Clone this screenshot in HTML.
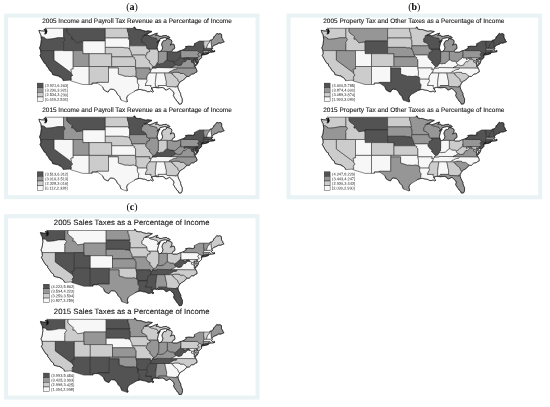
<!DOCTYPE html>
<html lang="en"><head><meta charset="utf-8"><title>Tax revenue maps</title>
<style>html,body{margin:0;padding:0;background:#fff}svg{display:block}text{text-rendering:geometricPrecision}</style></head>
<body><svg width="550" height="407" viewBox="0 0 550 407" font-family="'Liberation Sans', Arial, sans-serif"><defs><filter id="soft" x="-5%" y="-5%" width="110%" height="110%"><feGaussianBlur stdDeviation="0.35"/></filter></defs><rect x="4.1" y="13.6" width="255.4" height="185.6" fill="#e9f2f4"/>
<rect x="8.1" y="17.6" width="247.4" height="177.6" fill="#ffffff"/>
<rect x="286.6" y="13.6" width="255.6" height="185.7" fill="#e9f2f4"/>
<rect x="290.6" y="17.6" width="247.6" height="177.7" fill="#ffffff"/>
<rect x="4.1" y="214.2" width="255.4" height="185.4" fill="#e9f2f4"/>
<rect x="8.1" y="218.2" width="247.4" height="177.4" fill="#ffffff"/>
<text x="132.0" y="9.8" font-family="'Liberation Serif', serif" font-size="10" text-anchor="middle" fill="#000">(<tspan font-weight="bold">a</tspan>)</text>
<text x="414.3" y="9.8" font-family="'Liberation Serif', serif" font-size="10" text-anchor="middle" fill="#000">(<tspan font-weight="bold">b</tspan>)</text>
<text x="132.0" y="210.3" font-family="'Liberation Serif', serif" font-size="10" text-anchor="middle" fill="#000">(<tspan font-weight="bold">c</tspan>)</text>
<g stroke="#222222" stroke-width="0.52" stroke-linejoin="round" filter="url(#soft)"><path d="M41.1 37.0L40.9 35.0L39.8 33.1L38.9 30.3L41.6 30.9L44.1 31.0L45.3 31.1L45.6 32.4L44.5 34.2L46.2 33.7L46.7 31.8L46.2 30.2L46.1 29.1L45.2 28.3L63.6 28.3L63.6 36.5L64.0 37.8L57.3 37.8L56.3 38.1L52.5 38.8L50.2 39.1L46.9 39.3L45.1 39.0L45.1 38.2L43.8 37.4L42.8 37.0ZM45.3 30.2L45.9 30.4L46.4 31.6L45.9 31.6ZM44.0 29.4L44.9 29.3L45.1 30.0L44.1 30.0ZM45.7 32.3L46.2 32.4L46.2 33.5L45.7 33.4Z" fill="#f7f7f7"/><path d="M41.1 37.0L42.8 37.0L43.8 37.4L45.1 38.2L45.1 39.0L46.9 39.3L50.2 39.1L52.5 38.8L56.3 38.1L57.3 37.8L64.0 37.8L65.3 39.4L64.2 41.3L63.1 42.9L64.0 43.7L63.6 44.7L63.6 50.6L40.6 50.6L39.5 47.9L40.3 46.1L40.8 44.2L41.0 42.2L41.4 39.4Z" fill="#525252"/><path d="M40.6 50.6L54.1 50.6L54.1 60.1L71.3 72.8L72.0 74.6L72.9 75.2L71.6 76.2L71.0 77.9L71.7 79.1L71.0 80.1L63.3 80.7L62.8 79.2L60.8 77.3L59.2 76.8L58.9 75.9L56.7 75.7L52.6 74.6L52.0 72.3L49.9 70.8L48.0 67.7L46.4 65.8L46.1 63.9L44.5 63.3L41.9 59.1L40.0 55.5L40.9 53.7Z" fill="#525252"/><path d="M54.1 50.6L73.2 50.6L73.2 69.0L71.1 69.3L70.9 69.6L71.5 72.3L71.3 72.8L54.1 60.1Z" fill="#f7f7f7"/><path d="M63.6 28.3L66.8 28.3L66.8 31.5L67.9 33.2L70.3 34.9L71.4 35.8L72.2 36.6L71.7 39.1L73.4 38.8L75.1 41.2L76.6 42.8L78.8 42.4L81.5 41.9L82.8 42.7L82.8 50.6L63.6 50.6L63.6 44.7L64.0 43.7L63.1 42.9L64.2 41.3L65.3 39.4L64.0 37.8L63.6 36.5Z" fill="#525252"/><path d="M66.8 28.3L105.3 28.3L105.3 41.0L82.8 41.0L82.8 42.7L81.5 41.9L78.8 42.4L76.6 42.8L75.1 41.2L73.4 38.8L71.7 39.1L72.2 36.6L71.4 35.8L70.3 34.9L67.9 33.2L66.8 31.5Z" fill="#525252"/><path d="M82.8 41.0L105.3 41.0L105.3 53.7L82.8 53.7Z" fill="#f7f7f7"/><path d="M73.2 50.6L82.8 50.6L82.8 53.7L89.2 53.7L89.2 66.5L73.2 66.5Z" fill="#969696"/><path d="M89.2 53.7L111.7 53.7L111.7 66.5L89.2 66.5Z" fill="#cccccc"/><path d="M73.2 66.5L89.2 66.5L89.2 84.5L82.7 84.5L70.7 80.8L71.0 80.1L71.7 79.1L71.0 77.9L71.6 76.2L72.9 75.2L72.0 74.6L71.3 72.8L71.5 72.3L70.9 69.6L71.1 69.3L73.2 69.0Z" fill="#f7f7f7"/><path d="M89.2 66.5L108.7 66.5L108.7 68.0L108.5 68.0L108.5 82.4L97.0 82.4L97.0 83.1L92.0 83.1L92.0 84.5L89.2 84.5Z" fill="#cccccc"/><path d="M105.3 28.3L127.2 28.3L127.6 31.5L128.4 33.1L128.6 35.0L129.3 37.8L129.3 38.0L105.3 38.0Z" fill="#cccccc"/><path d="M105.3 38.0L129.3 38.0L128.4 39.1L129.7 40.1L129.7 45.8L129.2 47.1L129.7 49.0L128.9 48.7L127.3 47.9L125.0 48.0L123.1 47.4L105.3 47.4Z" fill="#f7f7f7"/><path d="M105.3 47.4L123.1 47.4L125.0 48.0L127.3 47.9L128.9 48.7L129.7 49.0L130.0 49.9L130.8 51.5L131.4 52.8L131.6 54.7L131.9 55.1L133.3 56.9L111.7 56.9L111.7 53.7L105.3 53.7Z" fill="#cccccc"/><path d="M111.7 56.9L133.3 56.9L134.7 57.7L134.0 58.4L135.6 59.7L135.6 66.5L111.7 66.5Z" fill="#cccccc"/><path d="M108.7 66.5L135.6 66.5L135.6 68.0L136.2 71.5L136.0 77.1L133.7 76.2L131.1 76.5L129.2 76.5L127.3 76.3L125.0 76.4L122.8 75.5L120.9 75.0L118.3 74.2L118.3 68.0L108.7 68.0Z" fill="#cccccc"/><path d="M108.5 68.0L118.3 68.0L118.3 74.2L120.9 75.0L122.8 75.5L125.0 76.4L127.3 76.3L129.2 76.5L131.1 76.5L133.7 76.2L136.0 77.1L137.4 77.4L137.4 82.4L138.2 84.0L139.0 85.0L138.5 86.8L138.5 88.4L138.1 89.7L135.3 90.6L134.0 91.7L131.4 93.2L128.6 94.8L127.3 96.4L126.6 98.3L127.0 99.8L127.4 101.6L126.3 101.9L124.1 101.2L121.2 100.2L120.0 97.5L119.9 96.7L117.3 94.1L116.2 91.6L113.8 89.5L110.9 89.1L109.6 89.7L108.2 92.0L107.7 91.9L105.4 90.9L103.8 89.8L102.6 86.8L99.0 84.3L97.4 83.2L97.0 83.1L97.0 82.4L108.5 82.4Z" fill="#f7f7f7"/><path d="M127.2 28.3L133.9 28.3L133.9 27.1L135.0 27.3L135.5 29.1L138.2 29.6L140.1 29.5L142.7 30.5L145.9 31.3L147.8 30.8L152.0 31.5L147.8 33.7L143.6 35.5L143.0 35.7L143.0 37.6L141.4 38.8L141.6 41.0L141.4 41.8L144.0 42.9L146.2 44.7L146.5 45.8L129.7 45.8L129.7 40.1L128.4 39.1L129.3 38.0L129.3 37.8L128.6 35.0L128.4 33.1L127.6 31.5L127.2 28.3Z" fill="#525252"/><path d="M129.7 45.8L146.5 45.8L146.9 47.1L146.7 48.2L148.3 49.0L149.9 50.2L149.7 51.2L149.3 52.0L147.0 52.5L146.9 54.2L145.9 55.6L144.9 55.0L131.9 55.1L131.6 54.7L131.4 52.8L130.8 51.5L130.0 49.9L129.7 49.0L129.2 47.1Z" fill="#cccccc"/><path d="M131.9 55.1L144.9 55.0L145.9 55.6L145.8 57.2L147.0 58.7L148.1 60.1L148.9 60.4L149.7 60.7L149.7 61.4L149.3 62.6L150.7 63.6L152.0 65.5L153.2 66.5L153.0 67.7L152.0 68.0L152.0 68.8L151.3 69.6L149.2 69.6L149.9 68.0L135.6 68.0L135.6 66.5L135.6 59.7L134.0 58.4L134.7 57.7L133.3 56.9Z" fill="#cccccc"/><path d="M135.6 68.0L149.9 68.0L149.2 69.6L151.3 69.6L150.2 72.4L149.4 72.8L148.5 74.1L147.3 75.7L146.9 77.3L146.7 79.2L137.4 79.2L137.4 77.4L136.0 77.1L136.2 71.5Z" fill="#969696"/><path d="M137.4 79.2L146.7 79.2L147.2 80.5L146.9 81.7L145.9 83.3L145.4 85.4L145.2 85.5L151.2 85.5L150.9 86.7L151.9 88.1L151.0 88.6L152.3 88.9L152.0 90.0L153.6 91.3L152.5 92.1L150.7 90.9L149.7 91.6L147.5 91.7L146.2 90.9L144.6 90.3L143.0 90.2L140.1 89.4L138.1 89.7L138.5 88.4L138.5 86.8L139.0 85.0L138.2 84.0L137.4 82.4L137.4 79.2Z" fill="#f7f7f7"/><path d="M149.4 72.8L156.2 72.8L156.5 73.1L155.3 82.7L155.5 87.5L153.9 87.4L151.9 88.1L150.9 86.7L151.2 85.5L145.2 85.5L145.4 85.4L145.9 83.3L146.9 81.7L147.2 80.5L146.7 79.2L146.9 77.3L147.3 75.7L148.5 74.1L149.4 72.8Z" fill="#f7f7f7"/><path d="M156.2 72.8L164.5 72.8L165.9 79.6L166.4 81.4L166.3 83.8L166.4 85.5L158.1 85.5L158.7 86.7L158.3 87.8L157.4 87.9L157.1 86.8L156.6 86.8L156.5 87.8L155.5 87.5L155.3 82.7L156.5 73.1Z" fill="#f7f7f7"/><path d="M164.5 72.8L172.5 72.8L171.7 73.8L173.2 74.6L174.1 76.2L176.2 77.7L177.7 79.2L178.0 80.5L179.0 82.0L179.8 82.3L178.8 83.8L178.0 85.5L177.8 86.4L176.1 86.3L175.9 87.6L175.4 87.0L166.9 86.5L166.4 85.5L166.3 83.8L166.4 81.4L165.9 79.6L164.5 72.8Z" fill="#cccccc"/><path d="M158.1 85.5L166.4 85.5L166.9 86.5L175.4 87.0L175.9 87.6L176.1 86.3L177.8 86.4L178.0 87.8L178.5 89.4L179.6 91.7L180.7 93.6L180.6 94.8L181.5 97.3L182.3 98.9L182.2 102.1L181.2 104.0L179.6 104.1L179.0 104.2L178.1 102.1L176.7 101.1L176.1 99.8L175.1 98.6L174.0 96.8L173.3 95.4L174.0 93.8L173.5 91.9L171.6 90.3L169.6 88.4L168.5 88.9L166.4 90.0L165.1 89.7L164.5 88.4L162.3 87.5L159.4 87.7L158.3 87.8L158.7 86.7Z" fill="#f7f7f7"/><path d="M172.5 72.8L174.8 72.2L179.1 72.3L179.1 72.7L179.5 72.5L180.0 73.4L183.5 73.5L187.1 76.4L185.7 77.4L185.1 78.5L183.8 79.5L182.5 80.5L181.0 81.2L179.8 82.3L179.0 82.0L178.0 80.5L177.7 79.2L176.2 77.7L174.1 76.2L173.2 74.6L171.7 73.8L172.5 72.8Z" fill="#cccccc"/><path d="M195.7 67.9L177.1 67.8L177.0 68.5L176.1 69.3L174.1 69.6L173.2 69.8L171.2 71.0L169.6 71.5L168.6 72.8L172.5 72.8L174.8 72.2L179.1 72.3L179.1 72.7L179.5 72.5L180.0 73.4L183.5 73.5L187.1 76.4L189.1 76.5L191.5 74.1L193.7 73.9L195.3 72.7L196.9 72.0L196.9 70.3Z" fill="#969696"/><path d="M152.0 68.0L156.6 68.0L156.6 67.5L170.7 67.7L177.1 67.8L177.0 68.5L176.1 69.3L174.1 69.6L173.2 69.8L171.2 71.0L169.6 71.5L168.6 72.8L156.2 72.8L149.4 72.8L150.2 72.4L151.3 69.6L152.0 68.8Z" fill="#f7f7f7"/><path d="M153.2 66.5L155.2 66.2L156.6 63.9L158.1 63.4L159.7 63.9L160.7 63.4L161.6 63.4L163.1 63.3L163.9 62.4L165.1 61.0L167.0 59.8L168.0 59.8L169.0 60.7L170.9 61.2L172.9 61.1L174.1 61.9L174.1 62.8L175.1 64.2L176.2 64.7L173.8 66.3L170.7 67.7L156.6 67.5L156.6 68.0L152.0 68.0L153.0 67.7Z" fill="#525252"/><path d="M195.7 67.9L177.1 67.8L170.7 67.7L173.8 66.3L176.2 64.7L178.5 65.7L181.5 64.9L181.5 64.2L183.6 61.4L185.1 61.8L186.1 60.8L187.8 59.0L189.4 59.7L189.8 59.1L190.5 59.8L191.7 60.3L192.0 60.7L191.2 62.0L192.1 62.3L194.4 63.6L194.4 64.9L194.2 66.5L195.3 66.7ZM197.8 63.2L196.5 63.3L195.6 64.6L195.3 65.8L195.5 66.1L196.6 64.9Z" fill="#969696"/><path d="M180.8 54.9L180.4 55.1L180.6 56.3L179.8 57.9L178.0 59.0L176.9 60.3L175.4 61.4L174.1 61.9L174.1 62.8L175.1 64.2L176.2 64.7L178.5 65.7L181.5 64.9L181.5 64.2L183.6 61.4L185.1 61.8L186.1 60.8L187.8 59.0L189.4 59.7L189.8 59.1L189.2 58.2L188.3 57.9L187.6 58.2L186.5 58.2L185.7 58.7L184.2 59.5L184.2 57.8L180.8 57.8Z" fill="#525252"/><path d="M167.0 51.5L171.4 51.4L172.9 52.2L173.8 52.2L176.1 52.2L177.0 52.2L179.3 51.0L180.8 50.6L180.8 54.9L180.4 55.1L180.6 56.3L179.8 57.9L178.0 59.0L176.9 60.3L175.4 61.4L174.1 61.9L172.9 61.1L170.9 61.2L169.0 60.7L168.0 59.8L167.0 59.8Z" fill="#525252"/><path d="M167.0 51.3L160.6 51.3L159.4 51.7L158.3 51.5L158.3 59.0L158.1 60.3L158.4 61.7L157.0 62.6L156.6 63.9L158.1 63.4L159.7 63.9L160.7 63.4L161.6 63.4L163.1 63.3L163.9 62.4L165.1 61.0L167.0 59.8Z" fill="#969696"/><path d="M148.3 49.0L157.4 49.0L158.1 51.0L158.3 51.5L158.3 59.0L158.1 60.3L158.4 61.7L157.0 62.6L156.6 63.9L155.2 66.2L153.2 66.5L152.0 65.5L150.7 63.6L149.3 62.6L149.7 61.4L149.7 60.7L148.9 60.4L148.1 60.1L147.0 58.7L145.8 57.2L145.9 55.6L146.9 54.2L147.0 52.5L149.3 52.0L149.7 51.2L149.9 50.2L148.3 49.0Z" fill="#cccccc"/><path d="M143.0 35.7L143.6 35.5L147.2 35.0L147.8 34.8L149.1 36.1L150.1 36.7L153.3 37.4L154.2 37.7L156.5 38.2L157.3 39.7L158.1 40.7L156.8 42.5L158.4 41.5L159.9 40.2L158.9 41.7L158.2 43.2L157.8 44.8L157.1 47.4L157.4 49.0L148.3 49.0L146.7 48.2L146.9 47.1L146.5 45.8L146.2 44.7L144.0 42.9L141.4 41.8L141.6 41.0L141.4 38.8L143.0 37.6Z" fill="#525252"/><path d="M167.0 51.5L171.4 51.4L172.4 50.4L172.5 49.6L174.5 48.7L174.7 47.4L174.1 44.5L172.9 44.0L171.6 44.5L170.0 45.3L171.2 43.9L171.9 41.7L171.4 40.1L169.0 39.0L167.2 38.5L166.1 39.1L166.4 39.7L164.8 41.0L164.3 40.4L162.9 41.3L162.4 42.3L161.6 44.2L161.8 45.2L162.6 47.4L162.3 49.3L161.3 50.6L160.6 51.3L167.0 51.3ZM149.1 36.1L152.0 35.1L153.9 34.3L155.2 33.7L157.4 33.2L156.2 34.7L155.4 35.3L158.1 35.1L158.7 36.2L161.3 36.4L163.2 35.7L166.4 35.4L167.1 36.4L168.5 36.2L169.3 37.0L170.0 37.8L167.4 38.3L164.8 37.6L162.3 38.2L161.0 38.6L160.0 38.8L159.7 39.6L158.1 40.7L157.3 39.7L156.5 38.2L154.2 37.7L153.3 37.4L150.1 36.7Z" fill="#969696"/><path d="M180.8 50.6L183.3 49.7L183.3 50.6L197.4 50.6L198.4 51.8L199.5 52.6L198.2 53.7L197.9 54.9L199.4 56.4L198.2 57.2L197.2 57.6L196.0 57.8L180.8 57.8L180.8 54.9Z" fill="#969696"/><path d="M183.3 50.6L183.3 49.7L185.7 48.3L186.0 47.7L185.5 46.6L188.9 46.2L192.8 46.4L194.7 45.6L194.4 44.2L194.4 43.6L196.0 42.8L199.3 41.0L203.8 41.0L203.7 44.2L203.6 45.5L204.2 45.6L204.1 48.2L203.3 50.4L203.4 52.8L202.6 53.4L202.8 53.7L202.1 54.4L201.7 54.7L202.1 53.7L199.5 52.6L198.4 51.8L197.4 50.6ZM201.6 55.1L202.5 55.0L205.6 54.5L208.6 53.5L207.2 53.3L206.1 53.8L203.3 54.0L202.4 54.4Z" fill="#525252"/><path d="M199.5 52.6L202.1 53.7L201.7 54.7L200.9 55.3L201.7 55.4L201.5 57.7L200.5 58.8L198.7 60.3L198.1 59.5L196.8 58.5L196.8 58.0L197.2 57.6L198.2 57.2L199.4 56.4L197.9 54.9L198.2 53.7Z" fill="#969696"/><path d="M196.0 57.8L197.2 57.6L196.8 58.5L197.2 59.8L198.2 60.7L198.4 61.8L196.3 61.8Z" fill="#969696"/><path d="M184.2 57.8L196.0 57.8L196.3 61.8L198.4 61.8L197.8 63.2L196.5 63.3L195.8 62.6L194.7 61.1L195.2 59.1L194.4 59.0L193.7 60.4L194.0 62.3L194.4 63.6L192.1 62.3L191.2 62.0L192.0 60.7L191.7 60.3L190.5 59.8L189.8 59.1L189.2 58.2L188.3 57.9L187.6 58.2L186.5 58.2L185.7 58.7L184.2 59.5Z" fill="#525252"/><path d="M203.3 50.4L208.8 50.5L208.8 52.5L208.6 52.7L205.3 52.9L202.8 53.7L202.6 53.4L203.4 52.8Z" fill="#969696"/><path d="M208.8 50.5L210.2 50.5L210.2 50.9L210.7 51.5L211.0 52.2L210.1 52.3L208.6 52.7L208.8 52.5Z" fill="#969696"/><path d="M204.1 48.2L206.7 48.2L210.4 48.3L211.4 47.8L212.0 47.8L212.7 48.5L211.7 49.1L211.4 49.6L212.3 50.1L212.7 50.7L213.0 51.3L214.6 51.2L214.6 50.4L213.9 50.3L214.7 50.9L214.7 51.6L212.5 52.1L211.4 52.2L211.0 52.2L210.7 51.5L210.2 50.9L210.2 50.5L208.8 50.5L203.3 50.4Z" fill="#525252"/><path d="M203.8 41.0L209.8 41.0L209.4 42.6L208.0 43.9L207.5 45.2L206.7 47.4L206.7 48.2L204.1 48.2L204.2 45.6L203.6 45.5L203.7 44.2Z" fill="#cccccc"/><path d="M209.8 41.0L210.1 40.2L211.1 40.1L211.5 45.6L211.4 46.2L212.3 47.2L212.0 47.8L211.4 47.8L210.4 48.3L206.7 48.2L206.7 47.4L207.5 45.2L208.0 43.9L209.4 42.6Z" fill="#f7f7f7"/><path d="M212.3 47.2L211.4 46.2L211.5 45.6L211.1 40.1L212.0 39.7L213.3 38.6L213.8 38.0L213.6 36.9L214.4 36.6L217.1 33.2L218.1 34.1L220.0 33.5L221.6 34.4L221.7 38.0L222.8 39.1L222.9 40.5L224.3 41.7L222.3 42.6L220.4 43.2L218.4 42.9L217.8 43.9L215.2 44.8L213.8 45.5L212.8 46.4Z" fill="#969696"/><path d="M191.7 60.3L192.0 60.1L192.4 60.4L192.0 60.7Z" fill="#969696"/><path d="M45.7 29.3L46.7 29.9L46.9 31.8L46.2 33.4L44.9 34.0L45.1 32.8L45.6 31.2Z" fill="#111"/><path d="M38.9 30.3L41.6 30.9L45.3 31.1L45.6 32.3L45.7 32.4L45.7 32.3L46.2 32.4L46.2 32.9L46.3 33.0L46.7 31.8L46.2 30.2L46.1 29.1L45.2 28.3M133.9 28.2L133.9 27.1L135.0 27.3L135.5 29.1L138.2 29.6L140.1 29.5L142.7 30.5L145.9 31.3L147.8 30.8L152.0 31.5L147.8 33.7L144.3 35.2L144.3 35.4L147.8 34.8L149.1 36.1L152.0 35.1L155.2 33.7L157.4 33.2L156.2 34.7L155.6 35.1L155.6 35.3L158.1 35.1L158.8 36.3L161.3 36.4L163.2 35.7L166.4 35.4L167.1 36.4L168.5 36.3L170.0 37.8L167.4 38.3L164.8 37.6L162.3 38.2L161.0 38.6L160.0 38.8L159.7 39.6L158.1 40.7L157.1 42.1L157.1 42.2L157.2 42.2L158.4 41.5L159.9 40.2L158.9 41.7L158.2 43.2L157.1 47.4L157.4 49.0L158.1 51.0L158.4 51.5L159.4 51.7L160.6 51.3L162.3 49.3L162.6 47.4L161.8 45.2L161.6 44.2L162.9 41.3L164.3 40.4L164.8 40.9L164.9 41.0L166.4 39.8L166.1 39.1L167.2 38.5L169.0 39.0L171.4 40.1L171.9 41.7L171.2 43.9L170.3 45.0L170.3 45.1L172.9 44.0L174.1 44.5L174.7 47.4L174.5 48.7L172.6 49.6L172.4 50.4L171.5 51.4L172.9 52.1L177.0 52.1L179.3 51.0L180.8 50.6L183.3 49.7L185.7 48.3L186.0 47.7L185.5 46.6L188.9 46.2L192.8 46.4L194.6 45.7L194.7 45.6L194.4 44.2L194.4 43.6M209.7 41.0L210.1 40.2L211.1 40.1L212.0 39.8L213.3 38.6L213.8 38.0L213.6 36.9L214.4 36.6L217.1 33.2L218.1 34.1L220.0 33.5L221.6 34.4L221.7 38.0L222.8 39.1L222.9 40.5L224.3 41.7L222.3 42.6L220.4 43.2L218.4 42.9L217.8 43.9L213.8 45.5L212.8 46.4L212.0 47.8L212.7 48.5L211.7 49.1L211.4 49.6L212.3 50.1L213.0 51.3L214.5 51.2L214.6 50.8L214.7 50.9L214.7 51.6L212.5 52.1L211.0 52.2L210.1 52.3L208.6 52.7L205.3 52.9L202.8 53.7L201.1 55.2L201.1 55.4L201.7 55.4L201.5 57.7L200.5 58.8L198.7 60.3L198.0 59.5L197.0 58.7L196.9 58.7L197.3 59.8L198.2 60.7L198.4 61.8L197.8 63.2L196.6 64.9L195.5 66.1L195.3 65.8L195.6 64.6L196.5 63.3L195.8 62.6L194.7 61.1L195.1 59.2L194.3 59.0L193.7 60.4L194.4 63.6L194.4 64.9L194.2 66.4L195.3 66.7L195.7 67.9L196.9 70.3L196.9 72.0L195.3 72.7L193.7 73.9L191.5 74.1L189.1 76.5L187.1 76.4L185.7 77.4L185.0 78.5L182.5 80.5L181.0 81.2L179.8 82.3L178.8 83.8L178.0 85.5L177.8 86.4L178.0 87.8L178.5 89.3L179.6 91.7L180.7 93.6L180.6 94.8L181.5 97.3L182.3 98.9L182.2 102.1L181.2 104.0L179.0 104.2L178.2 102.1L176.7 101.1L176.1 99.9L175.1 98.6L174.0 96.8L173.3 95.4L174.0 93.8L173.5 91.9L171.6 90.3L169.7 88.4L168.5 88.9L166.4 90.0L165.1 89.7L164.5 88.4L162.3 87.5L159.4 87.7L157.4 87.9L157.1 86.9L157.1 86.8L156.6 86.9L156.5 87.8L155.5 87.5L153.9 87.4L151.9 88.1L151.2 88.5L151.3 88.6L152.3 88.9L152.0 90.0L153.6 91.3L152.5 92.1L150.7 91.0L149.7 91.6L147.5 91.7L146.2 90.9L144.6 90.3L143.0 90.2L140.1 89.4L138.1 89.7L135.3 90.6L134.0 91.7M128.6 94.8L127.3 96.3L126.6 98.3L127.4 101.6L126.3 101.9M121.2 100.2L120.0 97.5L119.9 96.7L117.3 94.1L116.2 91.6L113.8 89.5L110.9 89.1L109.6 89.7L108.2 92.0L107.7 91.9L105.4 90.9L103.8 89.8L102.5 86.8M97.4 83.2L97.0 83.1L92.0 83.1L92.0 83.1L92.0 84.5M70.7 80.8L71.0 80.2L70.9 80.1M63.3 80.7L62.7 79.2L60.8 77.3L59.2 76.8L58.9 75.9L56.7 75.7L52.6 74.6L52.0 72.3L49.9 70.8L48.0 67.7L46.4 65.8L46.0 63.9L44.5 63.3L41.9 59.1L40.0 55.5L40.9 53.7L40.6 50.6L39.5 47.9L40.3 46.1L40.8 44.2L41.4 39.4L40.9 35.0L39.8 33.1L38.9 30.3M201.6 55.1L202.4 54.4L203.3 54.0L206.1 53.8L207.2 53.3L208.6 53.5L205.6 54.5L201.6 55.1M45.3 30.2L45.9 30.4L46.4 31.6L45.9 31.6L45.3 30.2M44.0 29.4L44.9 29.3L45.1 30.0L44.1 30.0L44.0 29.4" fill="none" stroke="#111" stroke-width="0.55"/></g><text transform="translate(137.00 23.30) scale(0.1)" font-size="64.5" text-anchor="middle" fill="#111" stroke="#111" stroke-width="0.9">2005 Income and Payroll Tax Revenue as a Percentage of Income</text><rect x="37.2" y="83.1" width="5.9" height="4.6" fill="#525252" stroke="#222222" stroke-width="0.4"/><text transform="translate(45.10 86.81) scale(0.1) rotate(0.3)" font-size="39.0" fill="#222">(3.921,6.263]</text><rect x="37.2" y="87.7" width="5.9" height="4.6" fill="#969696" stroke="#222222" stroke-width="0.4"/><text transform="translate(45.10 91.43) scale(0.1) rotate(0.3)" font-size="39.0" fill="#222">(3.230,3.921]</text><rect x="37.2" y="92.3" width="5.9" height="4.6" fill="#cccccc" stroke="#222222" stroke-width="0.4"/><text transform="translate(45.10 96.05) scale(0.1) rotate(0.3)" font-size="39.0" fill="#222">(2.534,3.230]</text><rect x="37.2" y="97.0" width="5.9" height="4.6" fill="#f7f7f7" stroke="#222222" stroke-width="0.4"/><text transform="translate(45.10 100.67) scale(0.1) rotate(0.3)" font-size="39.0" fill="#222">[0.449,2.534]</text>
<g stroke="#222222" stroke-width="0.52" stroke-linejoin="round" filter="url(#soft)"><path d="M41.1 125.9L40.9 123.9L39.8 122.0L38.9 119.2L41.6 119.8L44.1 119.9L45.3 120.0L45.6 121.3L44.5 123.1L46.2 122.6L46.7 120.7L46.2 119.1L46.1 118.0L45.2 117.2L63.6 117.2L63.6 125.4L64.0 126.7L57.3 126.7L56.3 127.0L52.5 127.7L50.2 128.0L46.9 128.2L45.1 127.9L45.1 127.1L43.8 126.3L42.8 125.9ZM45.3 119.1L45.9 119.3L46.4 120.5L45.9 120.5ZM44.0 118.3L44.9 118.2L45.1 118.9L44.1 118.9ZM45.7 121.2L46.2 121.3L46.2 122.4L45.7 122.3Z" fill="#f7f7f7"/><path d="M41.1 125.9L42.8 125.9L43.8 126.3L45.1 127.1L45.1 127.9L46.9 128.2L50.2 128.0L52.5 127.7L56.3 127.0L57.3 126.7L64.0 126.7L65.3 128.3L64.2 130.2L63.1 131.8L64.0 132.6L63.6 133.6L63.6 139.5L40.6 139.5L39.5 136.8L40.3 135.0L40.8 133.1L41.0 131.1L41.4 128.3Z" fill="#525252"/><path d="M40.6 139.5L54.1 139.5L54.1 149.0L71.3 161.7L72.0 163.5L72.9 164.1L71.6 165.1L71.0 166.8L71.7 168.0L71.0 169.0L63.3 169.6L62.8 168.1L60.8 166.2L59.2 165.7L58.9 164.8L56.7 164.6L52.6 163.5L52.0 161.2L49.9 159.7L48.0 156.6L46.4 154.7L46.1 152.8L44.5 152.2L41.9 148.0L40.0 144.4L40.9 142.6Z" fill="#525252"/><path d="M54.1 139.5L73.2 139.5L73.2 157.9L71.1 158.2L70.9 158.5L71.5 161.2L71.3 161.7L54.1 149.0Z" fill="#f7f7f7"/><path d="M63.6 117.2L66.8 117.2L66.8 120.4L67.9 122.1L70.3 123.8L71.4 124.7L72.2 125.5L71.7 128.0L73.4 127.7L75.1 130.1L76.6 131.7L78.8 131.3L81.5 130.8L82.8 131.6L82.8 139.5L63.6 139.5L63.6 133.6L64.0 132.6L63.1 131.8L64.2 130.2L65.3 128.3L64.0 126.7L63.6 125.4Z" fill="#969696"/><path d="M66.8 117.2L105.3 117.2L105.3 129.9L82.8 129.9L82.8 131.6L81.5 130.8L78.8 131.3L76.6 131.7L75.1 130.1L73.4 127.7L71.7 128.0L72.2 125.5L71.4 124.7L70.3 123.8L67.9 122.1L66.8 120.4Z" fill="#525252"/><path d="M82.8 129.9L105.3 129.9L105.3 142.6L82.8 142.6Z" fill="#f7f7f7"/><path d="M73.2 139.5L82.8 139.5L82.8 142.6L89.2 142.6L89.2 155.4L73.2 155.4Z" fill="#969696"/><path d="M89.2 142.6L111.7 142.6L111.7 155.4L89.2 155.4Z" fill="#cccccc"/><path d="M73.2 155.4L89.2 155.4L89.2 173.4L82.7 173.4L70.7 169.7L71.0 169.0L71.7 168.0L71.0 166.8L71.6 165.1L72.9 164.1L72.0 163.5L71.3 161.7L71.5 161.2L70.9 158.5L71.1 158.2L73.2 157.9Z" fill="#f7f7f7"/><path d="M89.2 155.4L108.7 155.4L108.7 156.9L108.5 156.9L108.5 171.3L97.0 171.3L97.0 172.0L92.0 172.0L92.0 173.4L89.2 173.4Z" fill="#cccccc"/><path d="M105.3 117.2L127.2 117.2L127.6 120.4L128.4 122.0L128.6 123.9L129.3 126.7L129.3 126.9L105.3 126.9Z" fill="#cccccc"/><path d="M105.3 126.9L129.3 126.9L128.4 128.0L129.7 129.0L129.7 134.7L129.2 136.0L129.7 137.9L128.9 137.6L127.3 136.8L125.0 136.9L123.1 136.3L105.3 136.3Z" fill="#f7f7f7"/><path d="M105.3 136.3L123.1 136.3L125.0 136.9L127.3 136.8L128.9 137.6L129.7 137.9L130.0 138.8L130.8 140.4L131.4 141.7L131.6 143.6L131.9 144.0L133.3 145.8L111.7 145.8L111.7 142.6L105.3 142.6Z" fill="#cccccc"/><path d="M111.7 145.8L133.3 145.8L134.7 146.6L134.0 147.3L135.6 148.6L135.6 155.4L111.7 155.4Z" fill="#f7f7f7"/><path d="M108.7 155.4L135.6 155.4L135.6 156.9L136.2 160.4L136.0 166.0L133.7 165.1L131.1 165.4L129.2 165.4L127.3 165.2L125.0 165.3L122.8 164.4L120.9 163.9L118.3 163.1L118.3 156.9L108.7 156.9Z" fill="#cccccc"/><path d="M108.5 156.9L118.3 156.9L118.3 163.1L120.9 163.9L122.8 164.4L125.0 165.3L127.3 165.2L129.2 165.4L131.1 165.4L133.7 165.1L136.0 166.0L137.4 166.3L137.4 171.3L138.2 172.9L139.0 173.9L138.5 175.7L138.5 177.3L138.1 178.6L135.3 179.5L134.0 180.6L131.4 182.1L128.6 183.7L127.3 185.3L126.6 187.2L127.0 188.8L127.4 190.5L126.3 190.8L124.1 190.1L121.2 189.1L120.0 186.4L119.9 185.6L117.3 183.0L116.2 180.5L113.8 178.4L110.9 178.0L109.6 178.6L108.2 180.9L107.7 180.8L105.4 179.8L103.8 178.7L102.6 175.7L99.0 173.2L97.4 172.1L97.0 172.0L97.0 171.3L108.5 171.3Z" fill="#f7f7f7"/><path d="M127.2 117.2L133.9 117.2L133.9 116.0L135.0 116.2L135.5 118.0L138.2 118.5L140.1 118.4L142.7 119.4L145.9 120.2L147.8 119.7L152.0 120.4L147.8 122.6L143.6 124.4L143.0 124.6L143.0 126.5L141.4 127.7L141.6 129.9L141.4 130.7L144.0 131.8L146.2 133.6L146.5 134.7L129.7 134.7L129.7 129.0L128.4 128.0L129.3 126.9L129.3 126.7L128.6 123.9L128.4 122.0L127.6 120.4L127.2 117.2Z" fill="#525252"/><path d="M129.7 134.7L146.5 134.7L146.9 136.0L146.7 137.1L148.3 137.9L149.9 139.1L149.7 140.1L149.3 140.9L147.0 141.4L146.9 143.1L145.9 144.5L144.9 143.9L131.9 144.0L131.6 143.6L131.4 141.7L130.8 140.4L130.0 138.8L129.7 137.9L129.2 136.0Z" fill="#969696"/><path d="M131.9 144.0L144.9 143.9L145.9 144.5L145.8 146.1L147.0 147.6L148.1 149.0L148.9 149.3L149.7 149.6L149.7 150.3L149.3 151.5L150.7 152.5L152.0 154.4L153.2 155.4L153.0 156.6L152.0 156.9L152.0 157.7L151.3 158.5L149.2 158.5L149.9 156.9L135.6 156.9L135.6 155.4L135.6 148.6L134.0 147.3L134.7 146.6L133.3 145.8Z" fill="#cccccc"/><path d="M135.6 156.9L149.9 156.9L149.2 158.5L151.3 158.5L150.2 161.3L149.4 161.7L148.5 163.0L147.3 164.6L146.9 166.2L146.7 168.1L137.4 168.1L137.4 166.3L136.0 166.0L136.2 160.4Z" fill="#cccccc"/><path d="M137.4 168.1L146.7 168.1L147.2 169.4L146.9 170.6L145.9 172.2L145.4 174.3L145.2 174.4L151.2 174.4L150.9 175.6L151.9 177.0L151.0 177.5L152.3 177.8L152.0 178.9L153.6 180.2L152.5 181.0L150.7 179.8L149.7 180.5L147.5 180.6L146.2 179.8L144.6 179.2L143.0 179.1L140.1 178.3L138.1 178.6L138.5 177.3L138.5 175.7L139.0 173.9L138.2 172.9L137.4 171.3L137.4 168.1Z" fill="#f7f7f7"/><path d="M149.4 161.7L156.2 161.7L156.5 162.0L155.3 171.6L155.5 176.4L153.9 176.3L151.9 177.0L150.9 175.6L151.2 174.4L145.2 174.4L145.4 174.3L145.9 172.2L146.9 170.6L147.2 169.4L146.7 168.1L146.9 166.2L147.3 164.6L148.5 163.0L149.4 161.7Z" fill="#cccccc"/><path d="M156.2 161.7L164.5 161.7L165.9 168.5L166.4 170.3L166.3 172.7L166.4 174.4L158.1 174.4L158.7 175.6L158.3 176.7L157.4 176.8L157.1 175.7L156.6 175.7L156.5 176.7L155.5 176.4L155.3 171.6L156.5 162.0Z" fill="#f7f7f7"/><path d="M164.5 161.7L172.5 161.7L171.7 162.7L173.2 163.5L174.1 165.1L176.2 166.6L177.7 168.1L178.0 169.4L179.0 170.9L179.8 171.2L178.8 172.7L178.0 174.4L177.8 175.3L176.1 175.2L175.9 176.5L175.4 175.9L166.9 175.4L166.4 174.4L166.3 172.7L166.4 170.3L165.9 168.5L164.5 161.7Z" fill="#cccccc"/><path d="M158.1 174.4L166.4 174.4L166.9 175.4L175.4 175.9L175.9 176.5L176.1 175.2L177.8 175.3L178.0 176.7L178.5 178.3L179.6 180.6L180.7 182.5L180.6 183.7L181.5 186.2L182.3 187.8L182.2 191.0L181.2 192.9L179.6 193.0L179.0 193.1L178.1 191.0L176.7 190.0L176.1 188.8L175.1 187.5L174.0 185.7L173.3 184.3L174.0 182.7L173.5 180.8L171.6 179.2L169.6 177.3L168.5 177.8L166.4 178.9L165.1 178.6L164.5 177.3L162.3 176.4L159.4 176.6L158.3 176.7L158.7 175.6Z" fill="#f7f7f7"/><path d="M172.5 161.7L174.8 161.1L179.1 161.2L179.1 161.6L179.5 161.4L180.0 162.3L183.5 162.4L187.1 165.3L185.7 166.3L185.1 167.4L183.8 168.4L182.5 169.4L181.0 170.1L179.8 171.2L179.0 170.9L178.0 169.4L177.7 168.1L176.2 166.6L174.1 165.1L173.2 163.5L171.7 162.7L172.5 161.7Z" fill="#cccccc"/><path d="M195.7 156.8L177.1 156.7L177.0 157.4L176.1 158.2L174.1 158.5L173.2 158.7L171.2 159.9L169.6 160.4L168.6 161.7L172.5 161.7L174.8 161.1L179.1 161.2L179.1 161.6L179.5 161.4L180.0 162.3L183.5 162.4L187.1 165.3L189.1 165.4L191.5 163.0L193.7 162.8L195.3 161.6L196.9 160.9L196.9 159.2Z" fill="#969696"/><path d="M152.0 156.9L156.6 156.9L156.6 156.4L170.7 156.6L177.1 156.7L177.0 157.4L176.1 158.2L174.1 158.5L173.2 158.7L171.2 159.9L169.6 160.4L168.6 161.7L156.2 161.7L149.4 161.7L150.2 161.3L151.3 158.5L152.0 157.7Z" fill="#f7f7f7"/><path d="M153.2 155.4L155.2 155.1L156.6 152.8L158.1 152.3L159.7 152.8L160.7 152.3L161.6 152.3L163.1 152.2L163.9 151.3L165.1 149.9L167.0 148.7L168.0 148.7L169.0 149.6L170.9 150.1L172.9 150.0L174.1 150.8L174.1 151.7L175.1 153.1L176.2 153.6L173.8 155.2L170.7 156.6L156.6 156.4L156.6 156.9L152.0 156.9L153.0 156.6Z" fill="#525252"/><path d="M195.7 156.8L177.1 156.7L170.7 156.6L173.8 155.2L176.2 153.6L178.5 154.6L181.5 153.8L181.5 153.1L183.6 150.3L185.1 150.7L186.1 149.7L187.8 147.9L189.4 148.6L189.8 148.0L190.5 148.7L191.7 149.2L192.0 149.6L191.2 150.9L192.1 151.2L194.4 152.5L194.4 153.8L194.2 155.4L195.3 155.6ZM197.8 152.1L196.5 152.2L195.6 153.5L195.3 154.7L195.5 155.0L196.6 153.8Z" fill="#969696"/><path d="M180.8 143.8L180.4 144.0L180.6 145.2L179.8 146.8L178.0 147.9L176.9 149.2L175.4 150.3L174.1 150.8L174.1 151.7L175.1 153.1L176.2 153.6L178.5 154.6L181.5 153.8L181.5 153.1L183.6 150.3L185.1 150.7L186.1 149.7L187.8 147.9L189.4 148.6L189.8 148.0L189.2 147.1L188.3 146.8L187.6 147.1L186.5 147.1L185.7 147.6L184.2 148.4L184.2 146.7L180.8 146.7Z" fill="#969696"/><path d="M167.0 140.4L171.4 140.3L172.9 141.1L173.8 141.1L176.1 141.1L177.0 141.1L179.3 139.9L180.8 139.5L180.8 143.8L180.4 144.0L180.6 145.2L179.8 146.8L178.0 147.9L176.9 149.2L175.4 150.3L174.1 150.8L172.9 150.0L170.9 150.1L169.0 149.6L168.0 148.7L167.0 148.7Z" fill="#969696"/><path d="M167.0 140.2L160.6 140.2L159.4 140.6L158.3 140.4L158.3 147.9L158.1 149.2L158.4 150.6L157.0 151.5L156.6 152.8L158.1 152.3L159.7 152.8L160.7 152.3L161.6 152.3L163.1 152.2L163.9 151.3L165.1 149.9L167.0 148.7Z" fill="#cccccc"/><path d="M148.3 137.9L157.4 137.9L158.1 139.9L158.3 140.4L158.3 147.9L158.1 149.2L158.4 150.6L157.0 151.5L156.6 152.8L155.2 155.1L153.2 155.4L152.0 154.4L150.7 152.5L149.3 151.5L149.7 150.3L149.7 149.6L148.9 149.3L148.1 149.0L147.0 147.6L145.8 146.1L145.9 144.5L146.9 143.1L147.0 141.4L149.3 140.9L149.7 140.1L149.9 139.1L148.3 137.9Z" fill="#969696"/><path d="M143.0 124.6L143.6 124.4L147.2 123.9L147.8 123.7L149.1 125.0L150.1 125.6L153.3 126.3L154.2 126.6L156.5 127.1L157.3 128.6L158.1 129.6L156.8 131.4L158.4 130.4L159.9 129.1L158.9 130.6L158.2 132.1L157.8 133.7L157.1 136.3L157.4 137.9L148.3 137.9L146.7 137.1L146.9 136.0L146.5 134.7L146.2 133.6L144.0 131.8L141.4 130.7L141.6 129.9L141.4 127.7L143.0 126.5Z" fill="#969696"/><path d="M167.0 140.4L171.4 140.3L172.4 139.3L172.5 138.5L174.5 137.6L174.7 136.3L174.1 133.4L172.9 132.9L171.6 133.4L170.0 134.2L171.2 132.8L171.9 130.6L171.4 129.0L169.0 127.9L167.2 127.4L166.1 128.0L166.4 128.6L164.8 129.9L164.3 129.3L162.9 130.2L162.4 131.2L161.6 133.1L161.8 134.1L162.6 136.3L162.3 138.2L161.3 139.5L160.6 140.2L167.0 140.2ZM149.1 125.0L152.0 124.0L153.9 123.2L155.2 122.6L157.4 122.1L156.2 123.6L155.4 124.2L158.1 124.0L158.7 125.2L161.3 125.3L163.2 124.6L166.4 124.3L167.1 125.3L168.5 125.2L169.3 125.9L170.0 126.7L167.4 127.2L164.8 126.5L162.3 127.1L161.0 127.5L160.0 127.7L159.7 128.5L158.1 129.6L157.3 128.6L156.5 127.1L154.2 126.6L153.3 126.3L150.1 125.6Z" fill="#cccccc"/><path d="M180.8 139.5L183.3 138.6L183.3 139.5L197.4 139.5L198.4 140.7L199.5 141.5L198.2 142.6L197.9 143.8L199.4 145.3L198.2 146.1L197.2 146.5L196.0 146.7L180.8 146.7L180.8 143.8Z" fill="#969696"/><path d="M183.3 139.5L183.3 138.6L185.7 137.2L186.0 136.6L185.5 135.5L188.9 135.1L192.8 135.3L194.7 134.5L194.4 133.1L194.4 132.5L196.0 131.7L199.3 129.9L203.8 129.9L203.7 133.1L203.6 134.4L204.2 134.5L204.1 137.1L203.3 139.3L203.4 141.7L202.6 142.3L202.8 142.6L202.1 143.3L201.7 143.6L202.1 142.6L199.5 141.5L198.4 140.7L197.4 139.5ZM201.6 144.0L202.5 143.9L205.6 143.4L208.6 142.4L207.2 142.2L206.1 142.7L203.3 142.9L202.4 143.3Z" fill="#525252"/><path d="M199.5 141.5L202.1 142.6L201.7 143.6L200.9 144.2L201.7 144.3L201.5 146.6L200.5 147.7L198.7 149.2L198.1 148.4L196.8 147.4L196.8 146.9L197.2 146.5L198.2 146.1L199.4 145.3L197.9 143.8L198.2 142.6Z" fill="#525252"/><path d="M196.0 146.7L197.2 146.5L196.8 147.4L197.2 148.7L198.2 149.6L198.4 150.7L196.3 150.7Z" fill="#525252"/><path d="M184.2 146.7L196.0 146.7L196.3 150.7L198.4 150.7L197.8 152.1L196.5 152.2L195.8 151.5L194.7 150.0L195.2 148.0L194.4 147.9L193.7 149.3L194.0 151.2L194.4 152.5L192.1 151.2L191.2 150.9L192.0 149.6L191.7 149.2L190.5 148.7L189.8 148.0L189.2 147.1L188.3 146.8L187.6 147.1L186.5 147.1L185.7 147.6L184.2 148.4Z" fill="#525252"/><path d="M203.3 139.3L208.8 139.4L208.8 141.4L208.6 141.6L205.3 141.8L202.8 142.6L202.6 142.3L203.4 141.7Z" fill="#525252"/><path d="M208.8 139.4L210.2 139.4L210.2 139.8L210.7 140.4L211.0 141.1L210.1 141.2L208.6 141.6L208.8 141.4Z" fill="#969696"/><path d="M204.1 137.1L206.7 137.1L210.4 137.2L211.4 136.7L212.0 136.7L212.7 137.4L211.7 138.0L211.4 138.5L212.3 139.0L212.7 139.6L213.0 140.2L214.6 140.1L214.6 139.3L213.9 139.2L214.7 139.8L214.7 140.5L212.5 141.0L211.4 141.1L211.0 141.1L210.7 140.4L210.2 139.8L210.2 139.4L208.8 139.4L203.3 139.3Z" fill="#525252"/><path d="M203.8 129.9L209.8 129.9L209.4 131.5L208.0 132.8L207.5 134.1L206.7 136.3L206.7 137.1L204.1 137.1L204.2 134.5L203.6 134.4L203.7 133.1Z" fill="#969696"/><path d="M209.8 129.9L210.1 129.1L211.1 129.0L211.5 134.5L211.4 135.1L212.3 136.1L212.0 136.7L211.4 136.7L210.4 137.2L206.7 137.1L206.7 136.3L207.5 134.1L208.0 132.8L209.4 131.5Z" fill="#f7f7f7"/><path d="M212.3 136.1L211.4 135.1L211.5 134.5L211.1 129.0L212.0 128.6L213.3 127.5L213.8 126.9L213.6 125.8L214.4 125.5L217.1 122.1L218.1 123.0L220.0 122.4L221.6 123.3L221.7 126.9L222.8 128.0L222.9 129.4L224.3 130.6L222.3 131.5L220.4 132.1L218.4 131.8L217.8 132.8L215.2 133.7L213.8 134.4L212.8 135.3Z" fill="#969696"/><path d="M191.7 149.2L192.0 149.0L192.4 149.3L192.0 149.6Z" fill="#525252"/><path d="M45.7 118.2L46.7 118.8L46.9 120.7L46.2 122.3L44.9 122.9L45.1 121.7L45.6 120.1Z" fill="#111"/><path d="M38.9 119.2L41.6 119.8L45.3 120.0L45.6 121.2L45.7 121.3L45.7 121.2L46.2 121.3L46.2 121.8L46.3 121.9L46.7 120.7L46.2 119.1L46.1 118.0L45.2 117.2M133.9 117.1L133.9 116.0L135.0 116.2L135.5 118.0L138.2 118.5L140.1 118.4L142.7 119.4L145.9 120.2L147.8 119.7L152.0 120.4L147.8 122.6L144.3 124.1L144.3 124.3L147.8 123.7L149.1 125.0L152.0 124.0L155.2 122.6L157.4 122.1L156.2 123.6L155.6 124.0L155.6 124.2L158.1 124.0L158.8 125.2L161.3 125.3L163.2 124.6L166.4 124.3L167.1 125.3L168.5 125.2L170.0 126.7L167.4 127.2L164.8 126.5L162.3 127.1L161.0 127.5L160.0 127.7L159.7 128.5L158.1 129.6L157.1 131.0L157.1 131.1L157.2 131.1L158.4 130.4L159.9 129.1L158.9 130.6L158.2 132.1L157.1 136.3L157.4 137.9L158.1 139.9L158.4 140.4L159.4 140.6L160.6 140.2L162.3 138.2L162.6 136.3L161.8 134.1L161.6 133.1L162.9 130.2L164.3 129.3L164.8 129.8L164.9 129.9L166.4 128.7L166.1 128.0L167.2 127.4L169.0 127.9L171.4 129.0L171.9 130.6L171.2 132.8L170.3 133.9L170.3 134.0L172.9 132.9L174.1 133.4L174.7 136.3L174.5 137.6L172.6 138.5L172.4 139.3L171.5 140.3L172.9 141.0L177.0 141.0L179.3 139.9L180.8 139.5L183.3 138.6L185.7 137.2L186.0 136.6L185.5 135.5L188.9 135.1L192.8 135.3L194.6 134.6L194.7 134.5L194.4 133.1L194.4 132.5M209.7 129.9L210.1 129.1L211.1 129.0L212.0 128.7L213.3 127.5L213.8 126.9L213.6 125.8L214.4 125.5L217.1 122.1L218.1 123.0L220.0 122.4L221.6 123.3L221.7 126.9L222.8 128.0L222.9 129.4L224.3 130.6L222.3 131.5L220.4 132.1L218.4 131.8L217.8 132.8L213.8 134.4L212.8 135.3L212.0 136.7L212.7 137.4L211.7 138.0L211.4 138.5L212.3 139.0L213.0 140.2L214.5 140.1L214.6 139.7L214.7 139.8L214.7 140.5L212.5 141.0L211.0 141.1L210.1 141.2L208.6 141.6L205.3 141.8L202.8 142.6L201.1 144.1L201.1 144.3L201.7 144.3L201.5 146.6L200.5 147.7L198.7 149.2L198.0 148.4L197.0 147.6L196.9 147.6L197.3 148.7L198.2 149.6L198.4 150.7L197.8 152.1L196.6 153.8L195.5 155.0L195.3 154.7L195.6 153.5L196.5 152.2L195.8 151.5L194.7 150.0L195.1 148.1L194.3 147.9L193.7 149.3L194.4 152.5L194.4 153.8L194.2 155.3L195.3 155.6L195.7 156.8L196.9 159.2L196.9 160.9L195.3 161.6L193.7 162.8L191.5 163.0L189.1 165.4L187.1 165.3L185.7 166.3L185.0 167.4L182.5 169.4L181.0 170.1L179.8 171.2L178.8 172.7L178.0 174.4L177.8 175.3L178.0 176.7L178.5 178.2L179.6 180.6L180.7 182.5L180.6 183.7L181.5 186.2L182.3 187.8L182.2 191.0L181.2 192.9L179.0 193.1L178.2 191.0L176.7 190.0L176.1 188.8L175.1 187.5L174.0 185.7L173.3 184.3L174.0 182.7L173.5 180.8L171.6 179.2L169.7 177.3L168.5 177.8L166.4 178.9L165.1 178.6L164.5 177.3L162.3 176.4L159.4 176.6L157.4 176.8L157.1 175.8L157.1 175.7L156.6 175.8L156.5 176.7L155.5 176.4L153.9 176.3L151.9 177.0L151.2 177.4L151.3 177.5L152.3 177.8L152.0 178.9L153.6 180.2L152.5 181.0L150.7 179.9L149.7 180.5L147.5 180.6L146.2 179.8L144.6 179.2L143.0 179.1L140.1 178.3L138.1 178.6L135.3 179.5L134.0 180.6M128.6 183.7L127.3 185.2L126.6 187.2L127.4 190.5L126.3 190.8M121.2 189.1L120.0 186.4L119.9 185.6L117.3 183.0L116.2 180.5L113.8 178.4L110.9 178.0L109.6 178.6L108.2 180.9L107.7 180.8L105.4 179.8L103.8 178.7L102.5 175.7M97.4 172.1L97.0 172.0L92.0 172.0L92.0 172.0L92.0 173.4M70.7 169.7L71.0 169.1L70.9 169.0M63.3 169.6L62.7 168.1L60.8 166.2L59.2 165.7L58.9 164.8L56.7 164.6L52.6 163.5L52.0 161.2L49.9 159.7L48.0 156.6L46.4 154.7L46.0 152.8L44.5 152.2L41.9 148.0L40.0 144.4L40.9 142.6L40.6 139.5L39.5 136.8L40.3 135.0L40.8 133.1L41.4 128.3L40.9 123.9L39.8 122.0L38.9 119.2M201.6 144.0L202.4 143.3L203.3 142.9L206.1 142.7L207.2 142.2L208.6 142.4L205.6 143.4L201.6 144.0M45.3 119.1L45.9 119.3L46.4 120.5L45.9 120.5L45.3 119.1M44.0 118.3L44.9 118.2L45.1 118.9L44.1 118.9L44.0 118.3" fill="none" stroke="#111" stroke-width="0.55"/></g><text transform="translate(137.00 112.20) scale(0.1)" font-size="64.5" text-anchor="middle" fill="#111" stroke="#111" stroke-width="0.9">2015 Income and Payroll Tax Revenue as a Percentage of Income</text><rect x="37.2" y="171.8" width="5.9" height="4.6" fill="#525252" stroke="#222222" stroke-width="0.4"/><text transform="translate(45.10 175.51) scale(0.1) rotate(0.3)" font-size="39.0" fill="#222">(3.513,6.312]</text><rect x="37.2" y="176.4" width="5.9" height="4.6" fill="#969696" stroke="#222222" stroke-width="0.4"/><text transform="translate(45.10 180.13) scale(0.1) rotate(0.3)" font-size="39.0" fill="#222">(3.016,3.513]</text><rect x="37.2" y="181.0" width="5.9" height="4.6" fill="#cccccc" stroke="#222222" stroke-width="0.4"/><text transform="translate(45.10 184.75) scale(0.1) rotate(0.3)" font-size="39.0" fill="#222">(2.328,3.016]</text><rect x="37.2" y="185.7" width="5.9" height="4.6" fill="#f7f7f7" stroke="#222222" stroke-width="0.4"/><text transform="translate(45.10 189.37) scale(0.1) rotate(0.3)" font-size="39.0" fill="#222">[0.112,2.328]</text>
<g stroke="#222222" stroke-width="0.52" stroke-linejoin="round" filter="url(#soft)"><path d="M323.4 37.0L323.2 35.0L322.1 33.1L321.2 30.3L323.9 30.9L326.4 31.0L327.6 31.1L327.9 32.4L326.8 34.2L328.5 33.7L329.0 31.8L328.5 30.2L328.4 29.1L327.5 28.3L345.9 28.3L345.9 36.5L346.3 37.8L339.6 37.8L338.6 38.1L334.8 38.8L332.5 39.1L329.2 39.3L327.4 39.0L327.4 38.2L326.1 37.4L325.1 37.0ZM327.6 30.2L328.2 30.4L328.7 31.6L328.2 31.6ZM326.3 29.4L327.2 29.3L327.4 30.0L326.4 30.0ZM328.0 32.3L328.5 32.4L328.5 33.5L328.0 33.4Z" fill="#cccccc"/><path d="M323.4 37.0L325.1 37.0L326.1 37.4L327.4 38.2L327.4 39.0L329.2 39.3L332.5 39.1L334.8 38.8L338.6 38.1L339.6 37.8L346.3 37.8L347.6 39.4L346.5 41.3L345.4 42.9L346.3 43.7L345.9 44.7L345.9 50.6L322.9 50.6L321.8 47.9L322.6 46.1L323.1 44.2L323.3 42.2L323.7 39.4Z" fill="#969696"/><path d="M322.9 50.6L336.4 50.6L336.4 60.1L353.6 72.8L354.3 74.6L355.2 75.2L353.9 76.2L353.3 77.9L354.0 79.1L353.3 80.1L345.6 80.7L345.1 79.2L343.1 77.3L341.5 76.8L341.2 75.9L339.0 75.7L334.9 74.6L334.3 72.3L332.2 70.8L330.3 67.7L328.7 65.8L328.4 63.9L326.8 63.3L324.2 59.1L322.3 55.5L323.2 53.7Z" fill="#cccccc"/><path d="M336.4 50.6L355.5 50.6L355.5 69.0L353.4 69.3L353.2 69.6L353.8 72.3L353.6 72.8L336.4 60.1Z" fill="#969696"/><path d="M345.9 28.3L349.1 28.3L349.1 31.5L350.2 33.2L352.6 34.9L353.7 35.8L354.5 36.6L354.0 39.1L355.7 38.8L357.4 41.2L358.9 42.8L361.1 42.4L363.8 41.9L365.1 42.7L365.1 50.6L345.9 50.6L345.9 44.7L346.3 43.7L345.4 42.9L346.5 41.3L347.6 39.4L346.3 37.8L345.9 36.5Z" fill="#cccccc"/><path d="M349.1 28.3L387.6 28.3L387.6 41.0L365.1 41.0L365.1 42.7L363.8 41.9L361.1 42.4L358.9 42.8L357.4 41.2L355.7 38.8L354.0 39.1L354.5 36.6L353.7 35.8L352.6 34.9L350.2 33.2L349.1 31.5Z" fill="#969696"/><path d="M365.1 41.0L387.6 41.0L387.6 53.7L365.1 53.7Z" fill="#525252"/><path d="M355.5 50.6L365.1 50.6L365.1 53.7L371.5 53.7L371.5 66.5L355.5 66.5Z" fill="#f7f7f7"/><path d="M371.5 53.7L394.0 53.7L394.0 66.5L371.5 66.5Z" fill="#cccccc"/><path d="M355.5 66.5L371.5 66.5L371.5 84.5L365.0 84.5L353.0 80.8L353.3 80.1L354.0 79.1L353.3 77.9L353.9 76.2L355.2 75.2L354.3 74.6L353.6 72.8L353.8 72.3L353.2 69.6L353.4 69.3L355.5 69.0Z" fill="#cccccc"/><path d="M371.5 66.5L391.0 66.5L391.0 68.0L390.8 68.0L390.8 82.4L379.3 82.4L379.3 83.1L374.3 83.1L374.3 84.5L371.5 84.5Z" fill="#f7f7f7"/><path d="M387.6 28.3L409.5 28.3L409.9 31.5L410.7 33.1L410.9 35.0L411.6 37.8L411.6 38.0L387.6 38.0Z" fill="#cccccc"/><path d="M387.6 38.0L411.6 38.0L410.7 39.1L412.0 40.1L412.0 45.8L411.5 47.1L412.0 49.0L411.2 48.7L409.6 47.9L407.3 48.0L405.4 47.4L387.6 47.4Z" fill="#cccccc"/><path d="M387.6 47.4L405.4 47.4L407.3 48.0L409.6 47.9L411.2 48.7L412.0 49.0L412.3 49.9L413.1 51.5L413.7 52.8L413.9 54.7L414.2 55.1L415.6 56.9L394.0 56.9L394.0 53.7L387.6 53.7Z" fill="#969696"/><path d="M394.0 56.9L415.6 56.9L417.0 57.7L416.3 58.4L417.9 59.7L417.9 66.5L394.0 66.5Z" fill="#969696"/><path d="M391.0 66.5L417.9 66.5L417.9 68.0L418.5 71.5L418.3 77.1L416.0 76.2L413.4 76.5L411.5 76.5L409.6 76.3L407.3 76.4L405.1 75.5L403.2 75.0L400.6 74.2L400.6 68.0L391.0 68.0Z" fill="#f7f7f7"/><path d="M390.8 68.0L400.6 68.0L400.6 74.2L403.2 75.0L405.1 75.5L407.3 76.4L409.6 76.3L411.5 76.5L413.4 76.5L416.0 76.2L418.3 77.1L419.7 77.4L419.7 82.4L420.5 84.0L421.3 85.0L420.8 86.8L420.8 88.4L420.4 89.7L417.6 90.6L416.3 91.7L413.7 93.2L410.9 94.8L409.6 96.4L408.9 98.3L409.3 99.8L409.7 101.6L408.6 101.9L406.4 101.2L403.5 100.2L402.3 97.5L402.2 96.7L399.6 94.1L398.5 91.6L396.1 89.5L393.2 89.1L391.9 89.7L390.5 92.0L390.0 91.9L387.7 90.9L386.1 89.8L384.9 86.8L381.3 84.3L379.7 83.2L379.3 83.1L379.3 82.4L390.8 82.4Z" fill="#525252"/><path d="M409.5 28.3L416.2 28.3L416.2 27.1L417.3 27.3L417.8 29.1L420.5 29.6L422.4 29.5L425.0 30.5L428.2 31.3L430.1 30.8L434.3 31.5L430.1 33.7L425.9 35.5L425.3 35.7L425.3 37.6L423.7 38.8L423.9 41.0L423.7 41.8L426.3 42.9L428.5 44.7L428.8 45.8L412.0 45.8L412.0 40.1L410.7 39.1L411.6 38.0L411.6 37.8L410.9 35.0L410.7 33.1L409.9 31.5L409.5 28.3Z" fill="#cccccc"/><path d="M412.0 45.8L428.8 45.8L429.2 47.1L429.0 48.2L430.6 49.0L432.2 50.2L432.0 51.2L431.6 52.0L429.3 52.5L429.2 54.2L428.2 55.6L427.2 55.0L414.2 55.1L413.9 54.7L413.7 52.8L413.1 51.5L412.3 49.9L412.0 49.0L411.5 47.1Z" fill="#969696"/><path d="M414.2 55.1L427.2 55.0L428.2 55.6L428.1 57.2L429.3 58.7L430.4 60.1L431.2 60.4L432.0 60.7L432.0 61.4L431.6 62.6L433.0 63.6L434.3 65.5L435.5 66.5L435.3 67.7L434.3 68.0L434.3 68.8L433.6 69.6L431.5 69.6L432.2 68.0L417.9 68.0L417.9 66.5L417.9 59.7L416.3 58.4L417.0 57.7L415.6 56.9Z" fill="#f7f7f7"/><path d="M417.9 68.0L432.2 68.0L431.5 69.6L433.6 69.6L432.5 72.4L431.7 72.8L430.8 74.1L429.6 75.7L429.2 77.3L429.0 79.2L419.7 79.2L419.7 77.4L418.3 77.1L418.5 71.5Z" fill="#f7f7f7"/><path d="M419.7 79.2L429.0 79.2L429.5 80.5L429.2 81.7L428.2 83.3L427.7 85.4L427.5 85.5L433.5 85.5L433.2 86.7L434.2 88.1L433.3 88.6L434.6 88.9L434.3 90.0L435.9 91.3L434.8 92.1L433.0 90.9L432.0 91.6L429.8 91.7L428.5 90.9L426.9 90.3L425.3 90.2L422.4 89.4L420.4 89.7L420.8 88.4L420.8 86.8L421.3 85.0L420.5 84.0L419.7 82.4L419.7 79.2Z" fill="#f7f7f7"/><path d="M431.7 72.8L438.5 72.8L438.8 73.1L437.6 82.7L437.8 87.5L436.2 87.4L434.2 88.1L433.2 86.7L433.5 85.5L427.5 85.5L427.7 85.4L428.2 83.3L429.2 81.7L429.5 80.5L429.0 79.2L429.2 77.3L429.6 75.7L430.8 74.1L431.7 72.8Z" fill="#f7f7f7"/><path d="M438.5 72.8L446.8 72.8L448.2 79.6L448.7 81.4L448.6 83.8L448.7 85.5L440.4 85.5L441.0 86.7L440.6 87.8L439.7 87.9L439.4 86.8L438.9 86.8L438.8 87.8L437.8 87.5L437.6 82.7L438.8 73.1Z" fill="#f7f7f7"/><path d="M446.8 72.8L454.8 72.8L454.0 73.8L455.5 74.6L456.4 76.2L458.5 77.7L460.0 79.2L460.3 80.5L461.3 82.0L462.1 82.3L461.1 83.8L460.3 85.5L460.1 86.4L458.4 86.3L458.2 87.6L457.7 87.0L449.2 86.5L448.7 85.5L448.6 83.8L448.7 81.4L448.2 79.6L446.8 72.8Z" fill="#cccccc"/><path d="M440.4 85.5L448.7 85.5L449.2 86.5L457.7 87.0L458.2 87.6L458.4 86.3L460.1 86.4L460.3 87.8L460.8 89.4L461.9 91.7L463.0 93.6L462.9 94.8L463.8 97.3L464.6 98.9L464.5 102.1L463.5 104.0L461.9 104.1L461.3 104.2L460.4 102.1L459.0 101.1L458.4 99.8L457.4 98.6L456.3 96.8L455.6 95.4L456.3 93.8L455.8 91.9L453.9 90.3L451.9 88.4L450.8 88.9L448.7 90.0L447.4 89.7L446.8 88.4L444.6 87.5L441.7 87.7L440.6 87.8L441.0 86.7Z" fill="#969696"/><path d="M454.8 72.8L457.1 72.2L461.4 72.3L461.4 72.7L461.8 72.5L462.3 73.4L465.8 73.5L469.4 76.4L468.0 77.4L467.4 78.5L466.1 79.5L464.8 80.5L463.3 81.2L462.1 82.3L461.3 82.0L460.3 80.5L460.0 79.2L458.5 77.7L456.4 76.2L455.5 74.6L454.0 73.8L454.8 72.8Z" fill="#cccccc"/><path d="M478.0 67.9L459.4 67.8L459.3 68.5L458.4 69.3L456.4 69.6L455.5 69.8L453.5 71.0L451.9 71.5L450.9 72.8L454.8 72.8L457.1 72.2L461.4 72.3L461.4 72.7L461.8 72.5L462.3 73.4L465.8 73.5L469.4 76.4L471.4 76.5L473.8 74.1L476.0 73.9L477.6 72.7L479.2 72.0L479.2 70.3Z" fill="#f7f7f7"/><path d="M434.3 68.0L438.9 68.0L438.9 67.5L453.0 67.7L459.4 67.8L459.3 68.5L458.4 69.3L456.4 69.6L455.5 69.8L453.5 71.0L451.9 71.5L450.9 72.8L438.5 72.8L431.7 72.8L432.5 72.4L433.6 69.6L434.3 68.8Z" fill="#f7f7f7"/><path d="M435.5 66.5L437.5 66.2L438.9 63.9L440.4 63.4L442.0 63.9L443.0 63.4L443.9 63.4L445.4 63.3L446.2 62.4L447.4 61.0L449.3 59.8L450.3 59.8L451.3 60.7L453.2 61.2L455.2 61.1L456.4 61.9L456.4 62.8L457.4 64.2L458.5 64.7L456.1 66.3L453.0 67.7L438.9 67.5L438.9 68.0L434.3 68.0L435.3 67.7Z" fill="#f7f7f7"/><path d="M478.0 67.9L459.4 67.8L453.0 67.7L456.1 66.3L458.5 64.7L460.8 65.7L463.8 64.9L463.8 64.2L465.9 61.4L467.4 61.8L468.4 60.8L470.1 59.0L471.7 59.7L472.1 59.1L472.8 59.8L474.0 60.3L474.3 60.7L473.5 62.0L474.4 62.3L476.7 63.6L476.7 64.9L476.5 66.5L477.6 66.7ZM480.1 63.2L478.8 63.3L477.9 64.6L477.6 65.8L477.8 66.1L478.9 64.9Z" fill="#cccccc"/><path d="M463.1 54.9L462.7 55.1L462.9 56.3L462.1 57.9L460.3 59.0L459.2 60.3L457.7 61.4L456.4 61.9L456.4 62.8L457.4 64.2L458.5 64.7L460.8 65.7L463.8 64.9L463.8 64.2L465.9 61.4L467.4 61.8L468.4 60.8L470.1 59.0L471.7 59.7L472.1 59.1L471.5 58.2L470.6 57.9L469.9 58.2L468.8 58.2L468.0 58.7L466.5 59.5L466.5 57.8L463.1 57.8Z" fill="#f7f7f7"/><path d="M449.3 51.5L453.7 51.4L455.2 52.2L456.1 52.2L458.4 52.2L459.3 52.2L461.6 51.0L463.1 50.6L463.1 54.9L462.7 55.1L462.9 56.3L462.1 57.9L460.3 59.0L459.2 60.3L457.7 61.4L456.4 61.9L455.2 61.1L453.2 61.2L451.3 60.7L450.3 59.8L449.3 59.8Z" fill="#969696"/><path d="M449.3 51.3L442.9 51.3L441.7 51.7L440.6 51.5L440.6 59.0L440.4 60.3L440.7 61.7L439.3 62.6L438.9 63.9L440.4 63.4L442.0 63.9L443.0 63.4L443.9 63.4L445.4 63.3L446.2 62.4L447.4 61.0L449.3 59.8Z" fill="#969696"/><path d="M430.6 49.0L439.7 49.0L440.4 51.0L440.6 51.5L440.6 59.0L440.4 60.3L440.7 61.7L439.3 62.6L438.9 63.9L437.5 66.2L435.5 66.5L434.3 65.5L433.0 63.6L431.6 62.6L432.0 61.4L432.0 60.7L431.2 60.4L430.4 60.1L429.3 58.7L428.1 57.2L428.2 55.6L429.2 54.2L429.3 52.5L431.6 52.0L432.0 51.2L432.2 50.2L430.6 49.0Z" fill="#525252"/><path d="M425.3 35.7L425.9 35.5L429.5 35.0L430.1 34.8L431.4 36.1L432.4 36.7L435.6 37.4L436.5 37.7L438.8 38.2L439.6 39.7L440.4 40.7L439.1 42.5L440.7 41.5L442.2 40.2L441.2 41.7L440.5 43.2L440.1 44.8L439.4 47.4L439.7 49.0L430.6 49.0L429.0 48.2L429.2 47.1L428.8 45.8L428.5 44.7L426.3 42.9L423.7 41.8L423.9 41.0L423.7 38.8L425.3 37.6Z" fill="#525252"/><path d="M449.3 51.5L453.7 51.4L454.7 50.4L454.8 49.6L456.8 48.7L457.0 47.4L456.4 44.5L455.2 44.0L453.9 44.5L452.3 45.3L453.5 43.9L454.2 41.7L453.7 40.1L451.3 39.0L449.5 38.5L448.4 39.1L448.7 39.7L447.1 41.0L446.6 40.4L445.2 41.3L444.7 42.3L443.9 44.2L444.1 45.2L444.9 47.4L444.6 49.3L443.6 50.6L442.9 51.3L449.3 51.3ZM431.4 36.1L434.3 35.1L436.2 34.3L437.5 33.7L439.7 33.2L438.5 34.7L437.7 35.3L440.4 35.1L441.0 36.2L443.6 36.4L445.5 35.7L448.7 35.4L449.4 36.4L450.8 36.2L451.6 37.0L452.3 37.8L449.7 38.3L447.1 37.6L444.6 38.2L443.3 38.6L442.3 38.8L442.0 39.6L440.4 40.7L439.6 39.7L438.8 38.2L436.5 37.7L435.6 37.4L432.4 36.7Z" fill="#969696"/><path d="M463.1 50.6L465.6 49.7L465.6 50.6L479.7 50.6L480.7 51.8L481.8 52.6L480.5 53.7L480.2 54.9L481.7 56.4L480.5 57.2L479.5 57.6L478.3 57.8L463.1 57.8L463.1 54.9Z" fill="#969696"/><path d="M465.6 50.6L465.6 49.7L468.0 48.3L468.3 47.7L467.8 46.6L471.2 46.2L475.1 46.4L477.0 45.6L476.7 44.2L476.7 43.6L478.3 42.8L481.6 41.0L486.1 41.0L486.0 44.2L485.9 45.5L486.5 45.6L486.4 48.2L485.6 50.4L485.7 52.8L484.9 53.4L485.1 53.7L484.4 54.4L484.0 54.7L484.4 53.7L481.8 52.6L480.7 51.8L479.7 50.6ZM483.9 55.1L484.8 55.0L487.9 54.5L490.9 53.5L489.5 53.3L488.4 53.8L485.6 54.0L484.7 54.4Z" fill="#525252"/><path d="M481.8 52.6L484.4 53.7L484.0 54.7L483.2 55.3L484.0 55.4L483.8 57.7L482.8 58.8L481.0 60.3L480.4 59.5L479.1 58.5L479.1 58.0L479.5 57.6L480.5 57.2L481.7 56.4L480.2 54.9L480.5 53.7Z" fill="#525252"/><path d="M478.3 57.8L479.5 57.6L479.1 58.5L479.5 59.8L480.5 60.7L480.7 61.8L478.6 61.8Z" fill="#f7f7f7"/><path d="M466.5 57.8L478.3 57.8L478.6 61.8L480.7 61.8L480.1 63.2L478.8 63.3L478.1 62.6L477.0 61.1L477.5 59.1L476.7 59.0L476.0 60.4L476.3 62.3L476.7 63.6L474.4 62.3L473.5 62.0L474.3 60.7L474.0 60.3L472.8 59.8L472.1 59.1L471.5 58.2L470.6 57.9L469.9 58.2L468.8 58.2L468.0 58.7L466.5 59.5Z" fill="#cccccc"/><path d="M485.6 50.4L491.1 50.5L491.1 52.5L490.9 52.7L487.6 52.9L485.1 53.7L484.9 53.4L485.7 52.8Z" fill="#525252"/><path d="M491.1 50.5L492.5 50.5L492.5 50.9L493.0 51.5L493.3 52.2L492.4 52.3L490.9 52.7L491.1 52.5Z" fill="#525252"/><path d="M486.4 48.2L489.0 48.2L492.7 48.3L493.7 47.8L494.3 47.8L495.0 48.5L494.0 49.1L493.7 49.6L494.6 50.1L495.0 50.7L495.3 51.3L496.9 51.2L496.9 50.4L496.2 50.3L497.0 50.9L497.0 51.6L494.8 52.1L493.7 52.2L493.3 52.2L493.0 51.5L492.5 50.9L492.5 50.5L491.1 50.5L485.6 50.4Z" fill="#969696"/><path d="M486.1 41.0L492.1 41.0L491.7 42.6L490.3 43.9L489.8 45.2L489.0 47.4L489.0 48.2L486.4 48.2L486.5 45.6L485.9 45.5L486.0 44.2Z" fill="#525252"/><path d="M492.1 41.0L492.4 40.2L493.4 40.1L493.8 45.6L493.7 46.2L494.6 47.2L494.3 47.8L493.7 47.8L492.7 48.3L489.0 48.2L489.0 47.4L489.8 45.2L490.3 43.9L491.7 42.6Z" fill="#525252"/><path d="M494.6 47.2L493.7 46.2L493.8 45.6L493.4 40.1L494.3 39.7L495.6 38.6L496.1 38.0L495.9 36.9L496.7 36.6L499.4 33.2L500.4 34.1L502.3 33.5L503.9 34.4L504.0 38.0L505.1 39.1L505.2 40.5L506.6 41.7L504.6 42.6L502.7 43.2L500.7 42.9L500.1 43.9L497.5 44.8L496.1 45.5L495.1 46.4Z" fill="#525252"/><path d="M474.0 60.3L474.3 60.1L474.7 60.4L474.3 60.7Z" fill="#525252"/><path d="M328.0 29.3L329.0 29.9L329.2 31.8L328.5 33.4L327.2 34.0L327.4 32.8L327.9 31.2Z" fill="#111"/><path d="M321.2 30.3L323.9 30.9L327.6 31.1L327.9 32.3L328.0 32.4L328.0 32.3L328.5 32.4L328.5 32.9L328.6 33.0L329.0 31.8L328.5 30.2L328.4 29.1L327.5 28.3M416.2 28.2L416.2 27.1L417.3 27.3L417.8 29.1L420.5 29.6L422.4 29.5L425.0 30.5L428.2 31.3L430.1 30.8L434.3 31.5L430.1 33.7L426.6 35.2L426.6 35.4L430.1 34.8L431.4 36.1L434.3 35.1L437.5 33.7L439.7 33.2L438.5 34.7L437.9 35.1L437.9 35.3L440.4 35.1L441.1 36.3L443.6 36.4L445.5 35.7L448.7 35.4L449.4 36.4L450.8 36.3L452.3 37.8L449.7 38.3L447.1 37.6L444.6 38.2L443.3 38.6L442.3 38.8L442.0 39.6L440.4 40.7L439.4 42.1L439.4 42.2L439.5 42.2L440.7 41.5L442.2 40.2L441.2 41.7L440.5 43.2L439.4 47.4L439.7 49.0L440.4 51.0L440.7 51.5L441.7 51.7L442.9 51.3L444.6 49.3L444.9 47.4L444.1 45.2L443.9 44.2L445.2 41.3L446.6 40.4L447.1 40.9L447.2 41.0L448.7 39.8L448.4 39.1L449.5 38.5L451.3 39.0L453.7 40.1L454.2 41.7L453.5 43.9L452.6 45.0L452.6 45.1L455.2 44.0L456.4 44.5L457.0 47.4L456.8 48.7L454.9 49.6L454.7 50.4L453.8 51.4L455.2 52.1L459.3 52.1L461.6 51.0L463.1 50.6L465.6 49.7L468.0 48.3L468.3 47.7L467.8 46.6L471.2 46.2L475.1 46.4L476.9 45.7L477.0 45.6L476.7 44.2L476.7 43.6M492.0 41.0L492.4 40.2L493.4 40.1L494.3 39.8L495.6 38.6L496.1 38.0L495.9 36.9L496.7 36.6L499.4 33.2L500.4 34.1L502.3 33.5L503.9 34.4L504.0 38.0L505.1 39.1L505.2 40.5L506.6 41.7L504.6 42.6L502.7 43.2L500.7 42.9L500.1 43.9L496.1 45.5L495.1 46.4L494.3 47.8L495.0 48.5L494.0 49.1L493.7 49.6L494.6 50.1L495.3 51.3L496.8 51.2L496.9 50.8L497.0 50.9L497.0 51.6L494.8 52.1L493.3 52.2L492.4 52.3L490.9 52.7L487.6 52.9L485.1 53.7L483.4 55.2L483.4 55.4L484.0 55.4L483.8 57.7L482.8 58.8L481.0 60.3L480.3 59.5L479.3 58.7L479.2 58.7L479.6 59.8L480.5 60.7L480.7 61.8L480.1 63.2L478.9 64.9L477.8 66.1L477.6 65.8L477.9 64.6L478.8 63.3L478.1 62.6L477.0 61.1L477.4 59.2L476.6 59.0L476.0 60.4L476.7 63.6L476.7 64.9L476.5 66.4L477.6 66.7L478.0 67.9L479.2 70.3L479.2 72.0L477.6 72.7L476.0 73.9L473.8 74.1L471.4 76.5L469.4 76.4L468.0 77.4L467.3 78.5L464.8 80.5L463.3 81.2L462.1 82.3L461.1 83.8L460.3 85.5L460.1 86.4L460.3 87.8L460.8 89.3L461.9 91.7L463.0 93.6L462.9 94.8L463.8 97.3L464.6 98.9L464.5 102.1L463.5 104.0L461.3 104.2L460.5 102.1L459.0 101.1L458.4 99.9L457.4 98.6L456.3 96.8L455.6 95.4L456.3 93.8L455.8 91.9L453.9 90.3L452.0 88.4L450.8 88.9L448.7 90.0L447.4 89.7L446.8 88.4L444.6 87.5L441.7 87.7L439.7 87.9L439.4 86.9L439.4 86.8L438.9 86.9L438.8 87.8L437.8 87.5L436.2 87.4L434.2 88.1L433.5 88.5L433.6 88.6L434.6 88.9L434.3 90.0L435.9 91.3L434.8 92.1L433.0 91.0L432.0 91.6L429.8 91.7L428.5 90.9L426.9 90.3L425.3 90.2L422.4 89.4L420.4 89.7L417.6 90.6L416.3 91.7M410.9 94.8L409.6 96.3L408.9 98.3L409.7 101.6L408.6 101.9M403.5 100.2L402.3 97.5L402.2 96.7L399.6 94.1L398.5 91.6L396.1 89.5L393.2 89.1L391.9 89.7L390.5 92.0L390.0 91.9L387.7 90.9L386.1 89.8L384.8 86.8M379.7 83.2L379.3 83.1L374.3 83.1L374.3 83.1L374.3 84.5M353.0 80.8L353.3 80.2L353.2 80.1M345.6 80.7L345.0 79.2L343.1 77.3L341.5 76.8L341.2 75.9L339.0 75.7L334.9 74.6L334.3 72.3L332.2 70.8L330.3 67.7L328.7 65.8L328.3 63.9L326.8 63.3L324.2 59.1L322.3 55.5L323.2 53.7L322.9 50.6L321.8 47.9L322.6 46.1L323.1 44.2L323.7 39.4L323.2 35.0L322.1 33.1L321.2 30.3M483.9 55.1L484.7 54.4L485.6 54.0L488.4 53.8L489.5 53.3L490.9 53.5L487.9 54.5L483.9 55.1M327.6 30.2L328.2 30.4L328.7 31.6L328.2 31.6L327.6 30.2M326.3 29.4L327.2 29.3L327.4 30.0L326.4 30.0L326.3 29.4" fill="none" stroke="#111" stroke-width="0.55"/></g><text transform="translate(413.85 23.30) scale(0.1)" font-size="64.9" text-anchor="middle" fill="#111" stroke="#111" stroke-width="0.9">2005 Property Tax and Other Taxes as a Percentage of Income</text><rect x="324.2" y="83.1" width="5.9" height="4.6" fill="#525252" stroke="#222222" stroke-width="0.4"/><text transform="translate(332.10 86.81) scale(0.1) rotate(0.3)" font-size="39.0" fill="#222">(4.600,5.785]</text><rect x="324.2" y="87.7" width="5.9" height="4.6" fill="#969696" stroke="#222222" stroke-width="0.4"/><text transform="translate(332.10 91.43) scale(0.1) rotate(0.3)" font-size="39.0" fill="#222">(3.874,4.600]</text><rect x="324.2" y="92.3" width="5.9" height="4.6" fill="#cccccc" stroke="#222222" stroke-width="0.4"/><text transform="translate(332.10 96.05) scale(0.1) rotate(0.3)" font-size="39.0" fill="#222">(3.089,3.874]</text><rect x="324.2" y="97.0" width="5.9" height="4.6" fill="#f7f7f7" stroke="#222222" stroke-width="0.4"/><text transform="translate(332.10 100.67) scale(0.1) rotate(0.3)" font-size="39.0" fill="#222">[1.993,3.089]</text>
<g stroke="#222222" stroke-width="0.52" stroke-linejoin="round" filter="url(#soft)"><path d="M323.4 125.9L323.2 123.9L322.1 122.0L321.2 119.2L323.9 119.8L326.4 119.9L327.6 120.0L327.9 121.3L326.8 123.1L328.5 122.6L329.0 120.7L328.5 119.1L328.4 118.0L327.5 117.2L345.9 117.2L345.9 125.4L346.3 126.7L339.6 126.7L338.6 127.0L334.8 127.7L332.5 128.0L329.2 128.2L327.4 127.9L327.4 127.1L326.1 126.3L325.1 125.9ZM327.6 119.1L328.2 119.3L328.7 120.5L328.2 120.5ZM326.3 118.3L327.2 118.2L327.4 118.9L326.4 118.9ZM328.0 121.2L328.5 121.3L328.5 122.4L328.0 122.3Z" fill="#cccccc"/><path d="M323.4 125.9L325.1 125.9L326.1 126.3L327.4 127.1L327.4 127.9L329.2 128.2L332.5 128.0L334.8 127.7L338.6 127.0L339.6 126.7L346.3 126.7L347.6 128.3L346.5 130.2L345.4 131.8L346.3 132.6L345.9 133.6L345.9 139.5L322.9 139.5L321.8 136.8L322.6 135.0L323.1 133.1L323.3 131.1L323.7 128.3Z" fill="#969696"/><path d="M322.9 139.5L336.4 139.5L336.4 149.0L353.6 161.7L354.3 163.5L355.2 164.1L353.9 165.1L353.3 166.8L354.0 168.0L353.3 169.0L345.6 169.6L345.1 168.1L343.1 166.2L341.5 165.7L341.2 164.8L339.0 164.6L334.9 163.5L334.3 161.2L332.2 159.7L330.3 156.6L328.7 154.7L328.4 152.8L326.8 152.2L324.2 148.0L322.3 144.4L323.2 142.6Z" fill="#cccccc"/><path d="M336.4 139.5L355.5 139.5L355.5 157.9L353.4 158.2L353.2 158.5L353.8 161.2L353.6 161.7L336.4 149.0Z" fill="#cccccc"/><path d="M345.9 117.2L349.1 117.2L349.1 120.4L350.2 122.1L352.6 123.8L353.7 124.7L354.5 125.5L354.0 128.0L355.7 127.7L357.4 130.1L358.9 131.7L361.1 131.3L363.8 130.8L365.1 131.6L365.1 139.5L345.9 139.5L345.9 133.6L346.3 132.6L345.4 131.8L346.5 130.2L347.6 128.3L346.3 126.7L345.9 125.4Z" fill="#cccccc"/><path d="M349.1 117.2L387.6 117.2L387.6 129.9L365.1 129.9L365.1 131.6L363.8 130.8L361.1 131.3L358.9 131.7L357.4 130.1L355.7 127.7L354.0 128.0L354.5 125.5L353.7 124.7L352.6 123.8L350.2 122.1L349.1 120.4Z" fill="#525252"/><path d="M365.1 129.9L387.6 129.9L387.6 142.6L365.1 142.6Z" fill="#525252"/><path d="M355.5 139.5L365.1 139.5L365.1 142.6L371.5 142.6L371.5 155.4L355.5 155.4Z" fill="#f7f7f7"/><path d="M371.5 142.6L394.0 142.6L394.0 155.4L371.5 155.4Z" fill="#cccccc"/><path d="M355.5 155.4L371.5 155.4L371.5 173.4L365.0 173.4L353.0 169.7L353.3 169.0L354.0 168.0L353.3 166.8L353.9 165.1L355.2 164.1L354.3 163.5L353.6 161.7L353.8 161.2L353.2 158.5L353.4 158.2L355.5 157.9Z" fill="#f7f7f7"/><path d="M371.5 155.4L391.0 155.4L391.0 156.9L390.8 156.9L390.8 171.3L379.3 171.3L379.3 172.0L374.3 172.0L374.3 173.4L371.5 173.4Z" fill="#f7f7f7"/><path d="M387.6 117.2L409.5 117.2L409.9 120.4L410.7 122.0L410.9 123.9L411.6 126.7L411.6 126.9L387.6 126.9Z" fill="#cccccc"/><path d="M387.6 126.9L411.6 126.9L410.7 128.0L412.0 129.0L412.0 134.7L411.5 136.0L412.0 137.9L411.2 137.6L409.6 136.8L407.3 136.9L405.4 136.3L387.6 136.3Z" fill="#969696"/><path d="M387.6 136.3L405.4 136.3L407.3 136.9L409.6 136.8L411.2 137.6L412.0 137.9L412.3 138.8L413.1 140.4L413.7 141.7L413.9 143.6L414.2 144.0L415.6 145.8L394.0 145.8L394.0 142.6L387.6 142.6Z" fill="#525252"/><path d="M394.0 145.8L415.6 145.8L417.0 146.6L416.3 147.3L417.9 148.6L417.9 155.4L394.0 155.4Z" fill="#cccccc"/><path d="M391.0 155.4L417.9 155.4L417.9 156.9L418.5 160.4L418.3 166.0L416.0 165.1L413.4 165.4L411.5 165.4L409.6 165.2L407.3 165.3L405.1 164.4L403.2 163.9L400.6 163.1L400.6 156.9L391.0 156.9Z" fill="#f7f7f7"/><path d="M390.8 156.9L400.6 156.9L400.6 163.1L403.2 163.9L405.1 164.4L407.3 165.3L409.6 165.2L411.5 165.4L413.4 165.4L416.0 165.1L418.3 166.0L419.7 166.3L419.7 171.3L420.5 172.9L421.3 173.9L420.8 175.7L420.8 177.3L420.4 178.6L417.6 179.5L416.3 180.6L413.7 182.1L410.9 183.7L409.6 185.3L408.9 187.2L409.3 188.8L409.7 190.5L408.6 190.8L406.4 190.1L403.5 189.1L402.3 186.4L402.2 185.6L399.6 183.0L398.5 180.5L396.1 178.4L393.2 178.0L391.9 178.6L390.5 180.9L390.0 180.8L387.7 179.8L386.1 178.7L384.9 175.7L381.3 173.2L379.7 172.1L379.3 172.0L379.3 171.3L390.8 171.3Z" fill="#969696"/><path d="M409.5 117.2L416.2 117.2L416.2 116.0L417.3 116.2L417.8 118.0L420.5 118.5L422.4 118.4L425.0 119.4L428.2 120.2L430.1 119.7L434.3 120.4L430.1 122.6L425.9 124.4L425.3 124.6L425.3 126.5L423.7 127.7L423.9 129.9L423.7 130.7L426.3 131.8L428.5 133.6L428.8 134.7L412.0 134.7L412.0 129.0L410.7 128.0L411.6 126.9L411.6 126.7L410.9 123.9L410.7 122.0L409.9 120.4L409.5 117.2Z" fill="#969696"/><path d="M412.0 134.7L428.8 134.7L429.2 136.0L429.0 137.1L430.6 137.9L432.2 139.1L432.0 140.1L431.6 140.9L429.3 141.4L429.2 143.1L428.2 144.5L427.2 143.9L414.2 144.0L413.9 143.6L413.7 141.7L413.1 140.4L412.3 138.8L412.0 137.9L411.5 136.0Z" fill="#969696"/><path d="M414.2 144.0L427.2 143.9L428.2 144.5L428.1 146.1L429.3 147.6L430.4 149.0L431.2 149.3L432.0 149.6L432.0 150.3L431.6 151.5L433.0 152.5L434.3 154.4L435.5 155.4L435.3 156.6L434.3 156.9L434.3 157.7L433.6 158.5L431.5 158.5L432.2 156.9L417.9 156.9L417.9 155.4L417.9 148.6L416.3 147.3L417.0 146.6L415.6 145.8Z" fill="#f7f7f7"/><path d="M417.9 156.9L432.2 156.9L431.5 158.5L433.6 158.5L432.5 161.3L431.7 161.7L430.8 163.0L429.6 164.6L429.2 166.2L429.0 168.1L419.7 168.1L419.7 166.3L418.3 166.0L418.5 160.4Z" fill="#f7f7f7"/><path d="M419.7 168.1L429.0 168.1L429.5 169.4L429.2 170.6L428.2 172.2L427.7 174.3L427.5 174.4L433.5 174.4L433.2 175.6L434.2 177.0L433.3 177.5L434.6 177.8L434.3 178.9L435.9 180.2L434.8 181.0L433.0 179.8L432.0 180.5L429.8 180.6L428.5 179.8L426.9 179.2L425.3 179.1L422.4 178.3L420.4 178.6L420.8 177.3L420.8 175.7L421.3 173.9L420.5 172.9L419.7 171.3L419.7 168.1Z" fill="#f7f7f7"/><path d="M431.7 161.7L438.5 161.7L438.8 162.0L437.6 171.6L437.8 176.4L436.2 176.3L434.2 177.0L433.2 175.6L433.5 174.4L427.5 174.4L427.7 174.3L428.2 172.2L429.2 170.6L429.5 169.4L429.0 168.1L429.2 166.2L429.6 164.6L430.8 163.0L431.7 161.7Z" fill="#cccccc"/><path d="M438.5 161.7L446.8 161.7L448.2 168.5L448.7 170.3L448.6 172.7L448.7 174.4L440.4 174.4L441.0 175.6L440.6 176.7L439.7 176.8L439.4 175.7L438.9 175.7L438.8 176.7L437.8 176.4L437.6 171.6L438.8 162.0Z" fill="#f7f7f7"/><path d="M446.8 161.7L454.8 161.7L454.0 162.7L455.5 163.5L456.4 165.1L458.5 166.6L460.0 168.1L460.3 169.4L461.3 170.9L462.1 171.2L461.1 172.7L460.3 174.4L460.1 175.3L458.4 175.2L458.2 176.5L457.7 175.9L449.2 175.4L448.7 174.4L448.6 172.7L448.7 170.3L448.2 168.5L446.8 161.7Z" fill="#cccccc"/><path d="M440.4 174.4L448.7 174.4L449.2 175.4L457.7 175.9L458.2 176.5L458.4 175.2L460.1 175.3L460.3 176.7L460.8 178.3L461.9 180.6L463.0 182.5L462.9 183.7L463.8 186.2L464.6 187.8L464.5 191.0L463.5 192.9L461.9 193.0L461.3 193.1L460.4 191.0L459.0 190.0L458.4 188.8L457.4 187.5L456.3 185.7L455.6 184.3L456.3 182.7L455.8 180.8L453.9 179.2L451.9 177.3L450.8 177.8L448.7 178.9L447.4 178.6L446.8 177.3L444.6 176.4L441.7 176.6L440.6 176.7L441.0 175.6Z" fill="#969696"/><path d="M454.8 161.7L457.1 161.1L461.4 161.2L461.4 161.6L461.8 161.4L462.3 162.3L465.8 162.4L469.4 165.3L468.0 166.3L467.4 167.4L466.1 168.4L464.8 169.4L463.3 170.1L462.1 171.2L461.3 170.9L460.3 169.4L460.0 168.1L458.5 166.6L456.4 165.1L455.5 163.5L454.0 162.7L454.8 161.7Z" fill="#969696"/><path d="M478.0 156.8L459.4 156.7L459.3 157.4L458.4 158.2L456.4 158.5L455.5 158.7L453.5 159.9L451.9 160.4L450.9 161.7L454.8 161.7L457.1 161.1L461.4 161.2L461.4 161.6L461.8 161.4L462.3 162.3L465.8 162.4L469.4 165.3L471.4 165.4L473.8 163.0L476.0 162.8L477.6 161.6L479.2 160.9L479.2 159.2Z" fill="#f7f7f7"/><path d="M434.3 156.9L438.9 156.9L438.9 156.4L453.0 156.6L459.4 156.7L459.3 157.4L458.4 158.2L456.4 158.5L455.5 158.7L453.5 159.9L451.9 160.4L450.9 161.7L438.5 161.7L431.7 161.7L432.5 161.3L433.6 158.5L434.3 157.7Z" fill="#f7f7f7"/><path d="M435.5 155.4L437.5 155.1L438.9 152.8L440.4 152.3L442.0 152.8L443.0 152.3L443.9 152.3L445.4 152.2L446.2 151.3L447.4 149.9L449.3 148.7L450.3 148.7L451.3 149.6L453.2 150.1L455.2 150.0L456.4 150.8L456.4 151.7L457.4 153.1L458.5 153.6L456.1 155.2L453.0 156.6L438.9 156.4L438.9 156.9L434.3 156.9L435.3 156.6Z" fill="#f7f7f7"/><path d="M478.0 156.8L459.4 156.7L453.0 156.6L456.1 155.2L458.5 153.6L460.8 154.6L463.8 153.8L463.8 153.1L465.9 150.3L467.4 150.7L468.4 149.7L470.1 147.9L471.7 148.6L472.1 148.0L472.8 148.7L474.0 149.2L474.3 149.6L473.5 150.9L474.4 151.2L476.7 152.5L476.7 153.8L476.5 155.4L477.6 155.6ZM480.1 152.1L478.8 152.2L477.9 153.5L477.6 154.7L477.8 155.0L478.9 153.8Z" fill="#969696"/><path d="M463.1 143.8L462.7 144.0L462.9 145.2L462.1 146.8L460.3 147.9L459.2 149.2L457.7 150.3L456.4 150.8L456.4 151.7L457.4 153.1L458.5 153.6L460.8 154.6L463.8 153.8L463.8 153.1L465.9 150.3L467.4 150.7L468.4 149.7L470.1 147.9L471.7 148.6L472.1 148.0L471.5 147.1L470.6 146.8L469.9 147.1L468.8 147.1L468.0 147.6L466.5 148.4L466.5 146.7L463.1 146.7Z" fill="#cccccc"/><path d="M449.3 140.4L453.7 140.3L455.2 141.1L456.1 141.1L458.4 141.1L459.3 141.1L461.6 139.9L463.1 139.5L463.1 143.8L462.7 144.0L462.9 145.2L462.1 146.8L460.3 147.9L459.2 149.2L457.7 150.3L456.4 150.8L455.2 150.0L453.2 150.1L451.3 149.6L450.3 148.7L449.3 148.7Z" fill="#cccccc"/><path d="M449.3 140.2L442.9 140.2L441.7 140.6L440.6 140.4L440.6 147.9L440.4 149.2L440.7 150.6L439.3 151.5L438.9 152.8L440.4 152.3L442.0 152.8L443.0 152.3L443.9 152.3L445.4 152.2L446.2 151.3L447.4 149.9L449.3 148.7Z" fill="#f7f7f7"/><path d="M430.6 137.9L439.7 137.9L440.4 139.9L440.6 140.4L440.6 147.9L440.4 149.2L440.7 150.6L439.3 151.5L438.9 152.8L437.5 155.1L435.5 155.4L434.3 154.4L433.0 152.5L431.6 151.5L432.0 150.3L432.0 149.6L431.2 149.3L430.4 149.0L429.3 147.6L428.1 146.1L428.2 144.5L429.2 143.1L429.3 141.4L431.6 140.9L432.0 140.1L432.2 139.1L430.6 137.9Z" fill="#525252"/><path d="M425.3 124.6L425.9 124.4L429.5 123.9L430.1 123.7L431.4 125.0L432.4 125.6L435.6 126.3L436.5 126.6L438.8 127.1L439.6 128.6L440.4 129.6L439.1 131.4L440.7 130.4L442.2 129.1L441.2 130.6L440.5 132.1L440.1 133.7L439.4 136.3L439.7 137.9L430.6 137.9L429.0 137.1L429.2 136.0L428.8 134.7L428.5 133.6L426.3 131.8L423.7 130.7L423.9 129.9L423.7 127.7L425.3 126.5Z" fill="#969696"/><path d="M449.3 140.4L453.7 140.3L454.7 139.3L454.8 138.5L456.8 137.6L457.0 136.3L456.4 133.4L455.2 132.9L453.9 133.4L452.3 134.2L453.5 132.8L454.2 130.6L453.7 129.0L451.3 127.9L449.5 127.4L448.4 128.0L448.7 128.6L447.1 129.9L446.6 129.3L445.2 130.2L444.7 131.2L443.9 133.1L444.1 134.1L444.9 136.3L444.6 138.2L443.6 139.5L442.9 140.2L449.3 140.2ZM431.4 125.0L434.3 124.0L436.2 123.2L437.5 122.6L439.7 122.1L438.5 123.6L437.7 124.2L440.4 124.0L441.0 125.2L443.6 125.3L445.5 124.6L448.7 124.3L449.4 125.3L450.8 125.2L451.6 125.9L452.3 126.7L449.7 127.2L447.1 126.5L444.6 127.1L443.3 127.5L442.3 127.7L442.0 128.5L440.4 129.6L439.6 128.6L438.8 127.1L436.5 126.6L435.6 126.3L432.4 125.6Z" fill="#969696"/><path d="M463.1 139.5L465.6 138.6L465.6 139.5L479.7 139.5L480.7 140.7L481.8 141.5L480.5 142.6L480.2 143.8L481.7 145.3L480.5 146.1L479.5 146.5L478.3 146.7L463.1 146.7L463.1 143.8Z" fill="#969696"/><path d="M465.6 139.5L465.6 138.6L468.0 137.2L468.3 136.6L467.8 135.5L471.2 135.1L475.1 135.3L477.0 134.5L476.7 133.1L476.7 132.5L478.3 131.7L481.6 129.9L486.1 129.9L486.0 133.1L485.9 134.4L486.5 134.5L486.4 137.1L485.6 139.3L485.7 141.7L484.9 142.3L485.1 142.6L484.4 143.3L484.0 143.6L484.4 142.6L481.8 141.5L480.7 140.7L479.7 139.5ZM483.9 144.0L484.8 143.9L487.9 143.4L490.9 142.4L489.5 142.2L488.4 142.7L485.6 142.9L484.7 143.3Z" fill="#525252"/><path d="M481.8 141.5L484.4 142.6L484.0 143.6L483.2 144.2L484.0 144.3L483.8 146.6L482.8 147.7L481.0 149.2L480.4 148.4L479.1 147.4L479.1 146.9L479.5 146.5L480.5 146.1L481.7 145.3L480.2 143.8L480.5 142.6Z" fill="#525252"/><path d="M478.3 146.7L479.5 146.5L479.1 147.4L479.5 148.7L480.5 149.6L480.7 150.7L478.6 150.7Z" fill="#f7f7f7"/><path d="M466.5 146.7L478.3 146.7L478.6 150.7L480.7 150.7L480.1 152.1L478.8 152.2L478.1 151.5L477.0 150.0L477.5 148.0L476.7 147.9L476.0 149.3L476.3 151.2L476.7 152.5L474.4 151.2L473.5 150.9L474.3 149.6L474.0 149.2L472.8 148.7L472.1 148.0L471.5 147.1L470.6 146.8L469.9 147.1L468.8 147.1L468.0 147.6L466.5 148.4Z" fill="#cccccc"/><path d="M485.6 139.3L491.1 139.4L491.1 141.4L490.9 141.6L487.6 141.8L485.1 142.6L484.9 142.3L485.7 141.7Z" fill="#525252"/><path d="M491.1 139.4L492.5 139.4L492.5 139.8L493.0 140.4L493.3 141.1L492.4 141.2L490.9 141.6L491.1 141.4Z" fill="#525252"/><path d="M486.4 137.1L489.0 137.1L492.7 137.2L493.7 136.7L494.3 136.7L495.0 137.4L494.0 138.0L493.7 138.5L494.6 139.0L495.0 139.6L495.3 140.2L496.9 140.1L496.9 139.3L496.2 139.2L497.0 139.8L497.0 140.5L494.8 141.0L493.7 141.1L493.3 141.1L493.0 140.4L492.5 139.8L492.5 139.4L491.1 139.4L485.6 139.3Z" fill="#969696"/><path d="M486.1 129.9L492.1 129.9L491.7 131.5L490.3 132.8L489.8 134.1L489.0 136.3L489.0 137.1L486.4 137.1L486.5 134.5L485.9 134.4L486.0 133.1Z" fill="#525252"/><path d="M492.1 129.9L492.4 129.1L493.4 129.0L493.8 134.5L493.7 135.1L494.6 136.1L494.3 136.7L493.7 136.7L492.7 137.2L489.0 137.1L489.0 136.3L489.8 134.1L490.3 132.8L491.7 131.5Z" fill="#525252"/><path d="M494.6 136.1L493.7 135.1L493.8 134.5L493.4 129.0L494.3 128.6L495.6 127.5L496.1 126.9L495.9 125.8L496.7 125.5L499.4 122.1L500.4 123.0L502.3 122.4L503.9 123.3L504.0 126.9L505.1 128.0L505.2 129.4L506.6 130.6L504.6 131.5L502.7 132.1L500.7 131.8L500.1 132.8L497.5 133.7L496.1 134.4L495.1 135.3Z" fill="#525252"/><path d="M474.0 149.2L474.3 149.0L474.7 149.3L474.3 149.6Z" fill="#525252"/><path d="M328.0 118.2L329.0 118.8L329.2 120.7L328.5 122.3L327.2 122.9L327.4 121.7L327.9 120.1Z" fill="#111"/><path d="M321.2 119.2L323.9 119.8L327.6 120.0L327.9 121.2L328.0 121.3L328.0 121.2L328.5 121.3L328.5 121.8L328.6 121.9L329.0 120.7L328.5 119.1L328.4 118.0L327.5 117.2M416.2 117.1L416.2 116.0L417.3 116.2L417.8 118.0L420.5 118.5L422.4 118.4L425.0 119.4L428.2 120.2L430.1 119.7L434.3 120.4L430.1 122.6L426.6 124.1L426.6 124.3L430.1 123.7L431.4 125.0L434.3 124.0L437.5 122.6L439.7 122.1L438.5 123.6L437.9 124.0L437.9 124.2L440.4 124.0L441.1 125.2L443.6 125.3L445.5 124.6L448.7 124.3L449.4 125.3L450.8 125.2L452.3 126.7L449.7 127.2L447.1 126.5L444.6 127.1L443.3 127.5L442.3 127.7L442.0 128.5L440.4 129.6L439.4 131.0L439.4 131.1L439.5 131.1L440.7 130.4L442.2 129.1L441.2 130.6L440.5 132.1L439.4 136.3L439.7 137.9L440.4 139.9L440.7 140.4L441.7 140.6L442.9 140.2L444.6 138.2L444.9 136.3L444.1 134.1L443.9 133.1L445.2 130.2L446.6 129.3L447.1 129.8L447.2 129.9L448.7 128.7L448.4 128.0L449.5 127.4L451.3 127.9L453.7 129.0L454.2 130.6L453.5 132.8L452.6 133.9L452.6 134.0L455.2 132.9L456.4 133.4L457.0 136.3L456.8 137.6L454.9 138.5L454.7 139.3L453.8 140.3L455.2 141.0L459.3 141.0L461.6 139.9L463.1 139.5L465.6 138.6L468.0 137.2L468.3 136.6L467.8 135.5L471.2 135.1L475.1 135.3L476.9 134.6L477.0 134.5L476.7 133.1L476.7 132.5M492.0 129.9L492.4 129.1L493.4 129.0L494.3 128.7L495.6 127.5L496.1 126.9L495.9 125.8L496.7 125.5L499.4 122.1L500.4 123.0L502.3 122.4L503.9 123.3L504.0 126.9L505.1 128.0L505.2 129.4L506.6 130.6L504.6 131.5L502.7 132.1L500.7 131.8L500.1 132.8L496.1 134.4L495.1 135.3L494.3 136.7L495.0 137.4L494.0 138.0L493.7 138.5L494.6 139.0L495.3 140.2L496.8 140.1L496.9 139.7L497.0 139.8L497.0 140.5L494.8 141.0L493.3 141.1L492.4 141.2L490.9 141.6L487.6 141.8L485.1 142.6L483.4 144.1L483.4 144.3L484.0 144.3L483.8 146.6L482.8 147.7L481.0 149.2L480.3 148.4L479.3 147.6L479.2 147.6L479.6 148.7L480.5 149.6L480.7 150.7L480.1 152.1L478.9 153.8L477.8 155.0L477.6 154.7L477.9 153.5L478.8 152.2L478.1 151.5L477.0 150.0L477.4 148.1L476.6 147.9L476.0 149.3L476.7 152.5L476.7 153.8L476.5 155.3L477.6 155.6L478.0 156.8L479.2 159.2L479.2 160.9L477.6 161.6L476.0 162.8L473.8 163.0L471.4 165.4L469.4 165.3L468.0 166.3L467.3 167.4L464.8 169.4L463.3 170.1L462.1 171.2L461.1 172.7L460.3 174.4L460.1 175.3L460.3 176.7L460.8 178.2L461.9 180.6L463.0 182.5L462.9 183.7L463.8 186.2L464.6 187.8L464.5 191.0L463.5 192.9L461.3 193.1L460.5 191.0L459.0 190.0L458.4 188.8L457.4 187.5L456.3 185.7L455.6 184.3L456.3 182.7L455.8 180.8L453.9 179.2L452.0 177.3L450.8 177.8L448.7 178.9L447.4 178.6L446.8 177.3L444.6 176.4L441.7 176.6L439.7 176.8L439.4 175.8L439.4 175.7L438.9 175.8L438.8 176.7L437.8 176.4L436.2 176.3L434.2 177.0L433.5 177.4L433.6 177.5L434.6 177.8L434.3 178.9L435.9 180.2L434.8 181.0L433.0 179.9L432.0 180.5L429.8 180.6L428.5 179.8L426.9 179.2L425.3 179.1L422.4 178.3L420.4 178.6L417.6 179.5L416.3 180.6M410.9 183.7L409.6 185.2L408.9 187.2L409.7 190.5L408.6 190.8M403.5 189.1L402.3 186.4L402.2 185.6L399.6 183.0L398.5 180.5L396.1 178.4L393.2 178.0L391.9 178.6L390.5 180.9L390.0 180.8L387.7 179.8L386.1 178.7L384.8 175.7M379.7 172.1L379.3 172.0L374.3 172.0L374.3 172.0L374.3 173.4M353.0 169.7L353.3 169.1L353.2 169.0M345.6 169.6L345.0 168.1L343.1 166.2L341.5 165.7L341.2 164.8L339.0 164.6L334.9 163.5L334.3 161.2L332.2 159.7L330.3 156.6L328.7 154.7L328.3 152.8L326.8 152.2L324.2 148.0L322.3 144.4L323.2 142.6L322.9 139.5L321.8 136.8L322.6 135.0L323.1 133.1L323.7 128.3L323.2 123.9L322.1 122.0L321.2 119.2M483.9 144.0L484.7 143.3L485.6 142.9L488.4 142.7L489.5 142.2L490.9 142.4L487.9 143.4L483.9 144.0M327.6 119.1L328.2 119.3L328.7 120.5L328.2 120.5L327.6 119.1M326.3 118.3L327.2 118.2L327.4 118.9L326.4 118.9L326.3 118.3" fill="none" stroke="#111" stroke-width="0.55"/></g><text transform="translate(413.85 112.20) scale(0.1)" font-size="64.9" text-anchor="middle" fill="#111" stroke="#111" stroke-width="0.9">2015 Property Tax and Other Taxes as a Percentage of Income</text><rect x="324.2" y="171.8" width="5.9" height="4.6" fill="#525252" stroke="#222222" stroke-width="0.4"/><text transform="translate(332.10 175.51) scale(0.1) rotate(0.3)" font-size="39.0" fill="#222">(4.247,8.229]</text><rect x="324.2" y="176.4" width="5.9" height="4.6" fill="#969696" stroke="#222222" stroke-width="0.4"/><text transform="translate(332.10 180.13) scale(0.1) rotate(0.3)" font-size="39.0" fill="#222">(3.443,4.247]</text><rect x="324.2" y="181.0" width="5.9" height="4.6" fill="#cccccc" stroke="#222222" stroke-width="0.4"/><text transform="translate(332.10 184.75) scale(0.1) rotate(0.3)" font-size="39.0" fill="#222">(2.930,3.443]</text><rect x="324.2" y="185.7" width="5.9" height="4.6" fill="#f7f7f7" stroke="#222222" stroke-width="0.4"/><text transform="translate(332.10 189.37) scale(0.1) rotate(0.3)" font-size="39.0" fill="#222">[2.030,2.930]</text>
<g stroke="#222222" stroke-width="0.52" stroke-linejoin="round" filter="url(#soft)"><path d="M42.6 239.1L42.4 237.1L41.3 235.2L40.4 232.5L43.0 233.1L45.6 233.2L46.7 233.3L47.0 234.6L45.9 236.3L47.7 235.9L48.1 234.0L47.7 232.4L47.5 231.3L46.7 230.5L64.9 230.5L64.9 238.6L65.2 239.9L58.6 239.9L57.7 240.2L53.9 240.9L51.6 241.2L48.3 241.4L46.5 241.1L46.5 240.3L45.3 239.5L44.3 239.2ZM46.7 232.4L47.3 232.5L47.8 233.8L47.3 233.8ZM45.4 231.6L46.4 231.4L46.5 232.2L45.6 232.2ZM47.2 234.4L47.7 234.6L47.7 235.7L47.2 235.5Z" fill="#525252"/><path d="M42.6 239.1L44.3 239.2L45.3 239.5L46.5 240.3L46.5 241.1L48.3 241.4L51.6 241.2L53.9 240.9L57.7 240.2L58.6 239.9L65.2 239.9L66.6 241.5L65.5 243.4L64.3 245.0L65.3 245.8L64.9 246.8L64.9 252.6L42.1 252.6L41.0 249.9L41.8 248.1L42.3 246.2L42.5 244.3L42.9 241.5Z" fill="#f7f7f7"/><path d="M42.1 252.6L55.4 252.6L55.4 262.0L72.5 274.6L73.2 276.3L74.1 276.9L72.8 278.0L72.2 279.6L72.9 280.8L72.2 281.8L64.6 282.4L64.0 280.9L62.1 279.0L60.5 278.5L60.2 277.7L58.0 277.4L53.9 276.3L53.4 274.1L51.3 272.6L49.4 269.6L47.8 267.7L47.5 265.8L45.9 265.1L43.4 261.1L41.4 257.5L42.4 255.7Z" fill="#cccccc"/><path d="M55.4 252.6L74.4 252.6L74.4 270.8L72.3 271.1L72.1 271.4L72.7 274.1L72.5 274.6L55.4 262.0Z" fill="#525252"/><path d="M64.9 230.5L68.0 230.5L68.0 233.7L69.1 235.4L71.5 237.0L72.6 237.9L73.4 238.7L72.9 241.2L74.6 240.9L76.3 243.3L77.7 244.8L79.9 244.5L82.6 244.0L83.9 244.8L83.9 252.6L64.9 252.6L64.9 246.8L65.3 245.8L64.3 245.0L65.5 243.4L66.6 241.5L65.2 239.9L64.9 238.6Z" fill="#969696"/><path d="M68.0 230.5L106.2 230.5L106.2 243.1L83.9 243.1L83.9 244.8L82.6 244.0L79.9 244.5L77.7 244.8L76.3 243.3L74.6 240.9L72.9 241.2L73.4 238.7L72.6 237.9L71.5 237.0L69.1 235.4L68.0 233.7Z" fill="#f7f7f7"/><path d="M83.9 243.1L106.2 243.1L106.2 255.7L83.9 255.7Z" fill="#969696"/><path d="M74.4 252.6L83.9 252.6L83.9 255.7L90.3 255.7L90.3 268.3L74.4 268.3Z" fill="#525252"/><path d="M90.3 255.7L112.5 255.7L112.5 268.3L90.3 268.3Z" fill="#f7f7f7"/><path d="M74.4 268.3L90.3 268.3L90.3 286.2L83.8 286.2L71.9 282.5L72.2 281.8L72.9 280.8L72.2 279.6L72.8 278.0L74.1 276.9L73.2 276.3L72.5 274.6L72.7 274.1L72.1 271.4L72.3 271.1L74.4 270.8Z" fill="#525252"/><path d="M90.3 268.3L109.5 268.3L109.5 269.9L109.4 269.9L109.3 284.1L98.0 284.1L98.0 284.7L93.0 284.7L93.0 286.2L90.3 286.2Z" fill="#525252"/><path d="M106.2 230.5L127.8 230.5L128.3 233.7L129.1 235.2L129.2 237.1L130.0 239.9L130.0 240.1L106.2 240.1Z" fill="#969696"/><path d="M106.2 240.1L130.0 240.1L129.1 241.2L130.3 242.2L130.3 247.8L129.9 249.1L130.3 251.0L129.5 250.7L127.9 249.9L125.7 250.0L123.8 249.4L106.2 249.4Z" fill="#525252"/><path d="M106.2 249.4L123.8 249.4L125.7 250.0L127.9 249.9L129.5 250.7L130.3 251.0L130.6 251.9L131.4 253.5L132.1 254.8L132.2 256.6L132.5 257.0L134.0 258.9L112.5 258.9L112.5 255.7L106.2 255.7Z" fill="#969696"/><path d="M112.5 258.9L134.0 258.9L135.3 259.6L134.6 260.3L136.2 261.6L136.1 268.3L112.5 268.3Z" fill="#969696"/><path d="M109.5 268.3L136.1 268.3L136.1 269.9L136.8 273.3L136.6 278.9L134.3 277.9L131.8 278.2L129.9 278.2L127.9 278.1L125.7 278.1L123.5 277.3L121.6 276.8L119.0 276.0L119.0 269.9L109.5 269.9Z" fill="#cccccc"/><path d="M109.4 269.9L119.0 269.9L119.0 276.0L121.6 276.8L123.5 277.3L125.7 278.1L127.9 278.1L129.9 278.2L131.8 278.2L134.3 277.9L136.6 278.9L138.0 279.2L138.0 284.1L138.8 285.6L139.6 286.6L139.1 288.5L139.1 290.0L138.6 291.3L135.9 292.2L134.6 293.3L132.1 294.8L129.2 296.3L127.9 297.9L127.3 299.8L127.6 301.4L128.1 303.1L127.0 303.4L124.8 302.7L121.9 301.7L120.8 299.0L120.6 298.2L118.1 295.7L117.0 293.2L114.6 291.1L111.7 290.7L110.5 291.3L109.0 293.6L108.5 293.5L106.3 292.6L104.7 291.5L103.5 288.5L100.0 285.9L98.4 284.8L98.0 284.7L98.0 284.1L109.3 284.1Z" fill="#969696"/><path d="M127.8 230.5L134.5 230.5L134.5 229.3L135.6 229.6L136.1 231.3L138.8 231.8L140.7 231.7L143.2 232.7L146.4 233.5L148.3 233.0L152.4 233.7L148.3 235.9L144.2 237.6L143.6 237.9L143.6 239.7L141.9 240.9L142.1 243.1L141.9 243.9L144.5 245.0L146.7 246.7L147.0 247.8L130.3 247.8L130.3 242.2L129.1 241.2L130.0 240.1L130.0 239.9L129.2 237.1L129.1 235.2L128.3 233.7L127.8 230.5Z" fill="#cccccc"/><path d="M130.3 247.8L147.0 247.8L147.3 249.1L147.2 250.2L148.8 251.0L150.4 252.2L150.2 253.2L149.7 254.0L147.5 254.4L147.3 256.2L146.4 257.6L145.4 257.0L132.5 257.0L132.2 256.6L132.1 254.8L131.4 253.5L130.6 251.9L130.3 251.0L129.9 249.1Z" fill="#cccccc"/><path d="M132.5 257.0L145.4 257.0L146.4 257.6L146.3 259.2L147.5 260.6L148.6 262.0L149.4 262.3L150.2 262.6L150.2 263.3L149.7 264.5L151.2 265.5L152.4 267.4L153.6 268.4L153.4 269.6L152.4 269.9L152.4 270.7L151.8 271.4L149.7 271.4L150.4 269.9L136.1 269.9L136.1 268.3L136.2 261.6L134.6 260.3L135.3 259.6L134.0 258.9Z" fill="#969696"/><path d="M136.1 269.9L150.4 269.9L149.7 271.4L151.8 271.4L150.6 274.2L149.9 274.6L148.9 275.9L147.8 277.4L147.3 279.0L147.2 280.9L138.0 280.9L138.0 279.2L136.6 278.9L136.8 273.3Z" fill="#525252"/><path d="M138.0 280.9L147.2 280.9L147.7 282.2L147.3 283.4L146.4 285.0L145.9 287.0L145.7 287.2L151.7 287.2L151.3 288.3L152.3 289.8L151.5 290.2L152.7 290.5L152.4 291.6L154.0 292.9L152.9 293.7L151.2 292.6L150.2 293.2L148.0 293.3L146.7 292.6L145.1 291.9L143.5 291.8L140.7 291.0L138.6 291.3L139.1 290.0L139.1 288.5L139.6 286.6L138.8 285.6L138.0 284.1L138.0 280.9Z" fill="#525252"/><path d="M149.9 274.6L156.6 274.6L156.9 274.9L155.7 284.4L155.9 289.2L154.3 289.1L152.3 289.8L151.3 288.3L151.7 287.2L145.7 287.2L145.9 287.0L146.4 285.0L147.3 283.4L147.7 282.2L147.2 280.9L147.3 279.0L147.8 277.4L148.9 275.9L149.9 274.6Z" fill="#525252"/><path d="M156.6 274.6L164.8 274.6L166.2 281.3L166.7 283.1L166.6 285.5L166.7 287.2L158.5 287.2L159.1 288.3L158.7 289.5L157.8 289.6L157.5 288.5L157.0 288.5L156.9 289.4L155.9 289.2L155.7 284.4L156.9 274.9Z" fill="#969696"/><path d="M164.8 274.6L172.8 274.6L172.0 275.5L173.4 276.3L174.4 277.9L176.4 279.5L177.9 280.9L178.2 282.2L179.1 283.7L179.9 284.0L179.0 285.5L178.2 287.2L178.0 288.1L176.3 288.0L176.1 289.2L175.6 288.6L167.2 288.1L166.7 287.2L166.6 285.5L166.7 283.1L166.2 281.3L164.8 274.6Z" fill="#cccccc"/><path d="M158.5 287.2L166.7 287.2L167.2 288.1L175.6 288.6L176.1 289.2L176.3 288.0L178.0 288.1L178.2 289.4L178.7 291.0L179.8 293.3L180.9 295.2L180.7 296.3L181.7 298.9L182.5 300.4L182.3 303.6L181.4 305.5L179.8 305.6L179.1 305.7L178.3 303.6L176.9 302.6L176.3 301.4L175.3 300.1L174.2 298.4L173.6 297.0L174.2 295.4L173.7 293.5L171.8 291.9L169.9 290.0L168.8 290.5L166.7 291.6L165.5 291.3L164.8 290.0L162.6 289.2L159.7 289.3L158.7 289.5L159.1 288.3Z" fill="#525252"/><path d="M172.8 274.6L175.0 274.0L179.3 274.1L179.3 274.4L179.7 274.3L180.2 275.2L183.7 275.2L187.3 278.2L185.8 279.2L185.2 280.3L183.9 281.2L182.6 282.2L181.2 282.9L179.9 284.0L179.1 283.7L178.2 282.2L177.9 280.9L176.4 279.5L174.4 277.9L173.4 276.3L172.0 275.5L172.8 274.6Z" fill="#cccccc"/><path d="M195.8 269.7L177.3 269.6L177.2 270.3L176.3 271.1L174.4 271.4L173.4 271.6L171.5 272.8L169.9 273.3L168.9 274.6L172.8 274.6L175.0 274.0L179.3 274.1L179.3 274.4L179.7 274.3L180.2 275.2L183.7 275.2L187.3 278.2L189.2 278.2L191.5 275.9L193.8 275.7L195.4 274.4L197.0 273.8L197.0 272.1Z" fill="#cccccc"/><path d="M152.4 269.9L157.0 269.9L157.0 269.3L170.9 269.6L177.3 269.6L177.2 270.3L176.3 271.1L174.4 271.4L173.4 271.6L171.5 272.8L169.9 273.3L168.9 274.6L156.6 274.6L149.9 274.6L150.6 274.2L151.8 271.4L152.4 270.7Z" fill="#525252"/><path d="M153.6 268.4L155.6 268.1L157.0 265.8L158.5 265.3L160.1 265.8L161.0 265.3L162.0 265.3L163.4 265.1L164.2 264.3L165.5 262.9L167.3 261.7L168.3 261.7L169.3 262.6L171.2 263.1L173.1 262.9L174.4 263.8L174.4 264.7L175.3 266.1L176.4 266.6L174.1 268.1L170.9 269.6L157.0 269.3L157.0 269.9L152.4 269.9L153.4 269.6Z" fill="#969696"/><path d="M195.8 269.7L177.3 269.6L170.9 269.6L174.1 268.1L176.4 266.6L178.7 267.5L181.7 266.7L181.7 266.1L183.8 263.3L185.2 263.7L186.2 262.7L187.9 260.9L189.5 261.6L189.9 261.0L190.6 261.7L191.8 262.2L192.1 262.6L191.2 263.9L192.2 264.2L194.4 265.5L194.4 266.7L194.2 268.3L195.4 268.5ZM197.8 265.1L196.6 265.2L195.7 266.4L195.4 267.7L195.5 267.9L196.6 266.7Z" fill="#f7f7f7"/><path d="M181.0 256.8L180.6 257.0L180.7 258.2L179.9 259.8L178.2 260.9L177.1 262.2L175.6 263.3L174.4 263.8L174.4 264.7L175.3 266.1L176.4 266.6L178.7 267.5L181.7 266.7L181.7 266.1L183.8 263.3L185.2 263.7L186.2 262.7L187.9 260.9L189.5 261.6L189.9 261.0L189.3 260.1L188.4 259.9L187.7 260.1L186.6 260.1L185.8 260.6L184.3 261.4L184.3 259.7L181.0 259.7Z" fill="#525252"/><path d="M167.3 253.5L171.7 253.4L173.1 254.1L174.1 254.1L176.3 254.1L177.2 254.1L179.5 253.0L181.0 252.6L181.0 256.8L180.6 257.0L180.7 258.2L179.9 259.8L178.2 260.9L177.1 262.2L175.6 263.3L174.4 263.8L173.1 262.9L171.2 263.1L169.3 262.6L168.3 261.7L167.3 261.7Z" fill="#cccccc"/><path d="M167.3 253.3L161.0 253.3L159.7 253.7L158.7 253.5L158.7 260.9L158.5 262.2L158.8 263.6L157.4 264.5L157.0 265.8L158.5 265.3L160.1 265.8L161.0 265.3L162.0 265.3L163.4 265.1L164.2 264.3L165.5 262.9L167.3 261.7Z" fill="#969696"/><path d="M148.8 251.0L157.8 251.0L158.5 253.0L158.7 253.5L158.7 260.9L158.5 262.2L158.8 263.6L157.4 264.5L157.0 265.8L155.6 268.1L153.6 268.4L152.4 267.4L151.2 265.5L149.7 264.5L150.2 263.3L150.2 262.6L149.4 262.3L148.6 262.0L147.5 260.6L146.3 259.2L146.4 257.6L147.3 256.2L147.5 254.4L149.7 254.0L150.2 253.2L150.4 252.2L148.8 251.0Z" fill="#cccccc"/><path d="M143.6 237.9L144.2 237.6L147.7 237.1L148.3 237.0L149.6 238.2L150.5 238.8L153.7 239.5L154.7 239.9L156.9 240.3L157.7 241.8L158.5 242.8L157.2 244.5L158.8 243.6L160.2 242.3L159.3 243.7L158.6 245.3L158.2 246.9L157.5 249.4L157.8 251.0L148.8 251.0L147.2 250.2L147.3 249.1L147.0 247.8L146.7 246.7L144.5 245.0L141.9 243.9L142.1 243.1L141.9 240.9L143.6 239.7Z" fill="#f7f7f7"/><path d="M167.3 253.5L171.7 253.4L172.6 252.4L172.8 251.6L174.7 250.7L174.9 249.4L174.4 246.6L173.1 246.1L171.8 246.6L170.2 247.4L171.5 245.9L172.1 243.7L171.7 242.2L169.3 241.1L167.5 240.6L166.4 241.2L166.7 241.8L165.2 243.1L164.7 242.5L163.2 243.4L162.8 244.4L162.0 246.2L162.1 247.2L162.9 249.4L162.6 251.3L161.7 252.6L161.0 253.3L167.3 253.3ZM149.6 238.2L152.4 237.3L154.3 236.5L155.6 235.9L157.8 235.3L156.6 236.8L155.8 237.4L158.5 237.3L159.1 238.4L161.7 238.5L163.6 237.8L166.7 237.5L167.4 238.5L168.8 238.4L169.6 239.2L170.2 239.9L167.7 240.4L165.2 239.7L162.6 240.3L161.3 240.7L160.4 240.9L160.1 241.7L158.5 242.8L157.7 241.8L156.9 240.3L154.7 239.9L153.7 239.5L150.5 238.8Z" fill="#cccccc"/><path d="M181.0 252.6L183.4 251.7L183.4 252.6L197.4 252.6L198.4 253.8L199.5 254.6L198.2 255.7L197.9 256.8L199.4 258.4L198.2 259.2L197.2 259.5L196.0 259.7L181.0 259.7L181.0 256.8Z" fill="#f7f7f7"/><path d="M183.4 252.6L183.4 251.7L185.8 250.3L186.1 249.7L185.7 248.6L189.0 248.2L192.8 248.5L194.7 247.7L194.4 246.2L194.4 245.6L196.0 244.8L199.3 243.1L203.8 243.1L203.6 246.2L203.5 247.5L204.1 247.7L204.0 250.2L203.3 252.4L203.4 254.8L202.6 255.4L202.8 255.7L202.0 256.3L201.7 256.6L202.0 255.7L199.5 254.6L198.4 253.8L197.4 252.6ZM201.6 257.0L202.5 257.0L205.5 256.5L208.5 255.5L207.1 255.2L206.0 255.8L203.3 255.9L202.4 256.3Z" fill="#969696"/><path d="M199.5 254.6L202.0 255.7L201.7 256.6L200.9 257.3L201.7 257.4L201.5 259.6L200.4 260.7L198.7 262.2L198.1 261.4L196.8 260.4L196.9 260.0L197.2 259.5L198.2 259.2L199.4 258.4L197.9 256.8L198.2 255.7Z" fill="#f7f7f7"/><path d="M196.0 259.7L197.2 259.5L196.8 260.4L197.3 261.7L198.2 262.6L198.4 263.7L196.3 263.7Z" fill="#f7f7f7"/><path d="M184.3 259.7L196.0 259.7L196.3 263.7L198.4 263.7L197.8 265.1L196.6 265.2L195.8 264.5L194.7 262.9L195.2 261.1L194.4 260.9L193.8 262.3L194.1 264.2L194.4 265.5L192.2 264.2L191.2 263.9L192.1 262.6L191.8 262.2L190.6 261.7L189.9 261.0L189.3 260.1L188.4 259.9L187.7 260.1L186.6 260.1L185.8 260.6L184.3 261.4Z" fill="#f7f7f7"/><path d="M203.3 252.4L208.7 252.5L208.7 254.4L208.5 254.7L205.2 254.9L202.8 255.7L202.6 255.4L203.4 254.8Z" fill="#969696"/><path d="M208.7 252.5L210.1 252.5L210.1 252.9L210.6 253.5L210.9 254.1L210.0 254.3L208.5 254.7L208.7 254.4Z" fill="#cccccc"/><path d="M204.0 250.2L206.6 250.3L210.3 250.3L211.3 249.8L211.8 249.8L212.5 250.5L211.6 251.1L211.3 251.6L212.2 252.1L212.5 252.7L212.9 253.2L214.4 253.2L214.4 252.4L213.8 252.3L214.6 252.9L214.6 253.6L212.4 254.1L211.3 254.1L210.9 254.1L210.6 253.5L210.1 252.9L210.1 252.5L208.7 252.5L203.3 252.4Z" fill="#f7f7f7"/><path d="M203.8 243.1L209.7 243.1L209.4 244.7L207.9 245.9L207.4 247.2L206.7 249.4L206.6 250.3L204.0 250.2L204.1 247.7L203.5 247.5L203.6 246.2Z" fill="#969696"/><path d="M209.7 243.1L210.0 242.3L211.0 242.2L211.4 247.6L211.3 248.2L212.2 249.2L211.8 249.8L211.3 249.8L210.3 250.3L206.6 250.3L206.7 249.4L207.4 247.2L207.9 245.9L209.4 244.7Z" fill="#f7f7f7"/><path d="M212.2 249.2L211.3 248.2L211.4 247.6L211.0 242.2L211.9 241.8L213.2 240.7L213.6 240.1L213.5 239.0L214.3 238.7L216.9 235.4L217.9 236.2L219.8 235.7L221.4 236.6L221.5 240.1L222.6 241.2L222.7 242.6L224.1 243.7L222.1 244.7L220.2 245.3L218.3 245.0L217.6 245.9L215.1 246.9L213.6 247.5L212.7 248.5Z" fill="#cccccc"/><path d="M191.8 262.2L192.1 262.0L192.5 262.3L192.1 262.6Z" fill="#cccccc"/><path d="M47.2 231.4L48.1 232.1L48.3 234.0L47.7 235.5L46.4 236.2L46.5 234.9L47.0 233.3Z" fill="#111"/><path d="M40.4 232.5L43.0 233.1L46.7 233.3L47.0 234.5L47.1 234.5L47.2 234.4L47.7 234.6L47.7 235.1L47.8 235.2L48.1 233.9L47.7 232.4L47.5 231.3L46.7 230.5M134.5 230.4L134.5 229.3L135.6 229.6L136.1 231.3L138.8 231.8L140.7 231.7L143.2 232.7L146.4 233.5L148.3 233.0L152.4 233.7L148.3 235.9L144.8 237.3L144.8 237.5L148.3 237.0L149.6 238.2L152.4 237.3L155.6 235.9L157.8 235.3L156.6 236.8L156.0 237.3L156.0 237.4L158.5 237.3L159.2 238.4L161.7 238.5L163.6 237.8L166.7 237.5L167.4 238.5L168.8 238.4L170.2 239.9L167.7 240.4L165.1 239.7L162.6 240.3L161.3 240.7L160.4 240.9L160.1 241.7L158.5 242.8L157.5 244.1L157.5 244.3L157.6 244.3L158.8 243.6L160.2 242.3L159.3 243.7L158.6 245.3L157.5 249.4L157.8 251.0L158.5 253.0L158.7 253.5L159.7 253.7L161.0 253.3L162.6 251.3L162.9 249.4L162.1 247.2L162.0 246.3L163.2 243.4L164.7 242.5L165.1 243.0L165.2 243.0L166.7 241.9L166.4 241.2L167.5 240.6L169.3 241.1L171.7 242.2L172.1 243.7L171.5 245.9L170.6 247.0L170.6 247.1L173.1 246.1L174.4 246.6L174.9 249.4L174.7 250.7L172.8 251.6L172.6 252.4L171.7 253.4L173.1 254.1L177.2 254.1L179.5 253.0L181.0 252.6L183.4 251.7L185.8 250.3L186.1 249.7L185.7 248.6L189.0 248.2L192.8 248.5L194.7 247.7L194.7 247.6L194.4 246.2L194.4 245.6M209.6 243.1L210.0 242.3L211.0 242.2L211.9 241.8L213.2 240.7L213.6 240.1L213.5 239.0L214.3 238.7L216.9 235.4L217.9 236.2L219.8 235.7L221.4 236.6L221.5 240.1L222.6 241.2L222.7 242.6L224.1 243.7L222.1 244.7L220.2 245.3L218.3 245.0L217.6 245.9L213.7 247.5L212.7 248.4L211.9 249.8L212.5 250.5L211.6 251.1L211.3 251.6L212.2 252.1L212.9 253.2L214.4 253.2L214.4 252.8L214.6 252.9L214.6 253.6L212.4 254.1L210.9 254.1L210.0 254.3L208.5 254.7L205.2 254.9L202.8 255.7L201.1 257.2L201.1 257.3L201.7 257.4L201.5 259.6L200.4 260.7L198.7 262.2L198.1 261.4L197.0 260.6L196.9 260.6L197.3 261.7L198.2 262.6L198.4 263.7L197.8 265.1L196.6 266.7L195.5 267.9L195.4 267.7L195.7 266.4L196.5 265.2L195.8 264.5L194.7 262.9L195.2 261.1L194.4 261.0L193.8 262.3L194.4 265.5L194.4 266.7L194.3 268.2L195.4 268.5L195.8 269.7L197.0 272.1L197.0 273.8L195.4 274.4L193.8 275.7L191.5 275.9L189.2 278.2L187.3 278.2L185.8 279.2L185.2 280.3L182.6 282.2L181.2 282.9L179.9 284.0L179.0 285.5L178.2 287.2L178.0 288.1L178.2 289.4L178.7 291.0L179.8 293.3L180.9 295.2L180.7 296.3L181.7 298.9L182.5 300.4L182.3 303.6L181.4 305.5L179.1 305.7L178.4 303.6L176.9 302.6L176.3 301.4L175.3 300.1L174.2 298.4L173.6 297.0L174.2 295.4L173.7 293.5L171.8 291.9L170.0 290.1L168.8 290.5L166.7 291.6L165.5 291.3L164.8 290.0L162.6 289.2L159.8 289.3L157.8 289.6L157.5 288.5L157.4 288.5L157.0 288.5L156.9 289.4L155.9 289.2L154.3 289.1L152.3 289.8L151.7 290.1L151.7 290.3L152.7 290.5L152.5 291.6L154.0 292.9L152.9 293.7L151.2 292.6L150.2 293.2L148.0 293.3L146.7 292.6L145.1 291.9L143.5 291.8L140.7 291.0L138.6 291.3L135.9 292.2L134.6 293.3M129.2 296.3L128.0 297.9L127.3 299.8L128.1 303.1L127.0 303.4M121.9 301.7L120.8 299.0L120.6 298.2L118.1 295.7L117.0 293.2L114.6 291.1L111.7 290.7L110.5 291.3L109.0 293.6L108.5 293.5L106.3 292.6L104.7 291.5L103.5 288.5M98.4 284.8L98.0 284.7L93.0 284.7L93.0 284.8L93.0 286.2M71.9 282.5L72.2 281.9L72.1 281.8M64.6 282.4L64.0 280.9L62.1 279.0L60.5 278.5L60.2 277.7L58.0 277.4L53.9 276.3L53.4 274.1L51.3 272.6L49.4 269.6L47.8 267.7L47.5 265.8L45.9 265.1L43.4 261.1L41.4 257.5L42.4 255.7L42.1 252.6L41.0 249.9L41.8 248.1L42.3 246.2L42.9 241.5L42.4 237.1L41.3 235.2L40.4 232.5M201.6 257.0L202.4 256.3L203.3 255.9L206.0 255.8L207.1 255.2L208.5 255.5L205.5 256.5L201.6 257.0M46.7 232.4L47.3 232.5L47.8 233.8L47.3 233.8L46.7 232.4M45.4 231.6L46.4 231.4L46.5 232.2L45.6 232.2L45.4 231.6" fill="none" stroke="#111" stroke-width="0.55"/></g><text transform="translate(131.65 224.80) scale(0.1)" font-size="77.4" text-anchor="middle" fill="#111" stroke="#111" stroke-width="0.9">2005 Sales Taxes as a Percentage of Income</text><rect x="43.4" y="284.2" width="5.9" height="4.6" fill="#525252" stroke="#222222" stroke-width="0.4"/><text transform="translate(51.30 287.91) scale(0.1) rotate(0.3)" font-size="39.0" fill="#222">(4.222,5.862]</text><rect x="43.4" y="288.8" width="5.9" height="4.6" fill="#969696" stroke="#222222" stroke-width="0.4"/><text transform="translate(51.30 292.53) scale(0.1) rotate(0.3)" font-size="39.0" fill="#222">(3.594,4.222]</text><rect x="43.4" y="293.4" width="5.9" height="4.6" fill="#cccccc" stroke="#222222" stroke-width="0.4"/><text transform="translate(51.30 297.15) scale(0.1) rotate(0.3)" font-size="39.0" fill="#222">(3.259,3.594]</text><rect x="43.4" y="298.1" width="5.9" height="4.6" fill="#f7f7f7" stroke="#222222" stroke-width="0.4"/><text transform="translate(51.30 301.77) scale(0.1) rotate(0.3)" font-size="39.0" fill="#222">[0.827,3.259]</text>
<g stroke="#222222" stroke-width="0.52" stroke-linejoin="round" filter="url(#soft)"><path d="M42.6 328.0L42.4 326.0L41.3 324.1L40.4 321.4L43.0 322.0L45.6 322.1L46.7 322.2L47.0 323.5L45.9 325.2L47.7 324.8L48.1 322.9L47.7 321.3L47.5 320.2L46.7 319.4L64.9 319.4L64.9 327.5L65.2 328.8L58.6 328.8L57.7 329.1L53.9 329.8L51.6 330.1L48.3 330.3L46.5 330.0L46.5 329.2L45.3 328.4L44.3 328.1ZM46.7 321.3L47.3 321.4L47.8 322.7L47.3 322.7ZM45.4 320.5L46.4 320.3L46.5 321.1L45.6 321.1ZM47.2 323.3L47.7 323.5L47.7 324.6L47.2 324.4Z" fill="#525252"/><path d="M42.6 328.0L44.3 328.1L45.3 328.4L46.5 329.2L46.5 330.0L48.3 330.3L51.6 330.1L53.9 329.8L57.7 329.1L58.6 328.8L65.2 328.8L66.6 330.4L65.5 332.3L64.3 333.9L65.3 334.7L64.9 335.7L64.9 341.4L42.1 341.4L41.0 338.8L41.8 337.0L42.3 335.1L42.5 333.2L42.9 330.4Z" fill="#f7f7f7"/><path d="M42.1 341.4L55.4 341.4L55.4 350.9L72.5 363.5L73.2 365.2L74.1 365.8L72.8 366.9L72.2 368.5L72.9 369.7L72.2 370.7L64.6 371.3L64.0 369.8L62.1 367.9L60.5 367.4L60.2 366.6L58.0 366.3L53.9 365.2L53.4 363.0L51.3 361.5L49.4 358.5L47.8 356.6L47.5 354.7L45.9 354.0L43.4 350.0L41.4 346.4L42.4 344.6Z" fill="#cccccc"/><path d="M55.4 341.4L74.4 341.4L74.4 359.7L72.3 360.0L72.1 360.3L72.7 363.0L72.5 363.5L55.4 350.9Z" fill="#525252"/><path d="M64.9 319.4L68.0 319.4L68.0 322.5L69.1 324.3L71.5 325.9L72.6 326.8L73.4 327.6L72.9 330.1L74.6 329.8L76.3 332.2L77.7 333.7L79.9 333.4L82.6 332.9L83.9 333.7L83.9 341.4L64.9 341.4L64.9 335.7L65.3 334.7L64.3 333.9L65.5 332.3L66.6 330.4L65.2 328.8L64.9 327.5Z" fill="#cccccc"/><path d="M68.0 319.4L106.2 319.4L106.2 332.0L83.9 332.0L83.9 333.7L82.6 332.9L79.9 333.4L77.7 333.7L76.3 332.2L74.6 329.8L72.9 330.1L73.4 327.6L72.6 326.8L71.5 325.9L69.1 324.3L68.0 322.5Z" fill="#f7f7f7"/><path d="M83.9 332.0L106.2 332.0L106.2 344.6L83.9 344.6Z" fill="#969696"/><path d="M74.4 341.4L83.9 341.4L83.9 344.6L90.3 344.6L90.3 357.2L74.4 357.2Z" fill="#cccccc"/><path d="M90.3 344.6L112.5 344.6L112.5 357.2L90.3 357.2Z" fill="#cccccc"/><path d="M74.4 357.2L90.3 357.2L90.3 375.1L83.8 375.1L71.9 371.4L72.2 370.7L72.9 369.7L72.2 368.5L72.8 366.9L74.1 365.8L73.2 365.2L72.5 363.5L72.7 363.0L72.1 360.3L72.3 360.0L74.4 359.7Z" fill="#525252"/><path d="M90.3 357.2L109.5 357.2L109.5 358.8L109.4 358.8L109.3 372.9L98.0 372.9L98.0 373.6L93.0 373.6L93.0 375.1L90.3 375.1Z" fill="#525252"/><path d="M106.2 319.4L127.8 319.4L128.3 322.5L129.1 324.1L129.2 326.0L130.0 328.8L130.0 329.0L106.2 329.0Z" fill="#525252"/><path d="M106.2 329.0L130.0 329.0L129.1 330.1L130.3 331.1L130.3 336.7L129.9 338.0L130.3 339.9L129.5 339.6L127.9 338.8L125.7 338.9L123.8 338.3L106.2 338.3Z" fill="#525252"/><path d="M106.2 338.3L123.8 338.3L125.7 338.9L127.9 338.8L129.5 339.6L130.3 339.9L130.6 340.8L131.4 342.4L132.1 343.7L132.2 345.5L132.5 345.9L134.0 347.8L112.5 347.8L112.5 344.6L106.2 344.6Z" fill="#f7f7f7"/><path d="M112.5 347.8L134.0 347.8L135.3 348.5L134.6 349.2L136.2 350.5L136.1 357.2L112.5 357.2Z" fill="#969696"/><path d="M109.5 357.2L136.1 357.2L136.1 358.8L136.8 362.2L136.6 367.8L134.3 366.8L131.8 367.1L129.9 367.1L127.9 367.0L125.7 367.0L123.5 366.2L121.6 365.7L119.0 364.9L119.0 358.8L109.5 358.8Z" fill="#969696"/><path d="M109.4 358.8L119.0 358.8L119.0 364.9L121.6 365.7L123.5 366.2L125.7 367.0L127.9 367.0L129.9 367.1L131.8 367.1L134.3 366.8L136.6 367.8L138.0 368.1L138.0 372.9L138.8 374.5L139.6 375.5L139.1 377.4L139.1 378.9L138.6 380.2L135.9 381.1L134.6 382.2L132.1 383.7L129.2 385.2L127.9 386.8L127.3 388.7L127.6 390.3L128.1 392.0L127.0 392.3L124.8 391.6L121.9 390.6L120.8 387.9L120.6 387.1L118.1 384.6L117.0 382.1L114.6 380.0L111.7 379.6L110.5 380.2L109.0 382.5L108.5 382.4L106.3 381.5L104.7 380.4L103.5 377.4L100.0 374.8L98.4 373.7L98.0 373.6L98.0 372.9L109.3 372.9Z" fill="#525252"/><path d="M127.8 319.4L134.5 319.4L134.5 318.2L135.6 318.5L136.1 320.2L138.8 320.7L140.7 320.6L143.2 321.6L146.4 322.4L148.3 321.9L152.4 322.5L148.3 324.8L144.2 326.5L143.6 326.8L143.6 328.6L141.9 329.8L142.1 332.0L141.9 332.8L144.5 333.9L146.7 335.6L147.0 336.7L130.3 336.7L130.3 331.1L129.1 330.1L130.0 329.0L130.0 328.8L129.2 326.0L129.1 324.1L128.3 322.5L127.8 319.4Z" fill="#969696"/><path d="M130.3 336.7L147.0 336.7L147.3 338.0L147.2 339.1L148.8 339.9L150.4 341.1L150.2 342.1L149.7 342.9L147.5 343.3L147.3 345.1L146.4 346.5L145.4 345.9L132.5 345.9L132.2 345.5L132.1 343.7L131.4 342.4L130.6 340.8L130.3 339.9L129.9 338.0Z" fill="#cccccc"/><path d="M132.5 345.9L145.4 345.9L146.4 346.5L146.3 348.1L147.5 349.5L148.6 350.9L149.4 351.2L150.2 351.5L150.2 352.2L149.7 353.4L151.2 354.4L152.4 356.3L153.6 357.3L153.4 358.5L152.4 358.8L152.4 359.6L151.8 360.3L149.7 360.3L150.4 358.8L136.1 358.8L136.1 357.2L136.2 350.5L134.6 349.2L135.3 348.5L134.0 347.8Z" fill="#cccccc"/><path d="M136.1 358.8L150.4 358.8L149.7 360.3L151.8 360.3L150.6 363.1L149.9 363.5L148.9 364.8L147.8 366.3L147.3 367.9L147.2 369.8L138.0 369.8L138.0 368.1L136.6 367.8L136.8 362.2Z" fill="#525252"/><path d="M138.0 369.8L147.2 369.8L147.7 371.1L147.3 372.3L146.4 373.9L145.9 375.9L145.7 376.1L151.7 376.1L151.3 377.2L152.3 378.7L151.5 379.1L152.7 379.4L152.4 380.5L154.0 381.8L152.9 382.6L151.2 381.5L150.2 382.1L148.0 382.2L146.7 381.5L145.1 380.8L143.5 380.7L140.7 379.9L138.6 380.2L139.1 378.9L139.1 377.4L139.6 375.5L138.8 374.5L138.0 372.9L138.0 369.8Z" fill="#525252"/><path d="M149.9 363.5L156.6 363.5L156.9 363.8L155.7 373.3L155.9 378.1L154.3 378.0L152.3 378.7L151.3 377.2L151.7 376.1L145.7 376.1L145.9 375.9L146.4 373.9L147.3 372.3L147.7 371.1L147.2 369.8L147.3 367.9L147.8 366.3L148.9 364.8L149.9 363.5Z" fill="#525252"/><path d="M156.6 363.5L164.8 363.5L166.2 370.2L166.7 372.0L166.6 374.4L166.7 376.1L158.5 376.1L159.1 377.2L158.7 378.4L157.8 378.5L157.5 377.4L157.0 377.4L156.9 378.3L155.9 378.1L155.7 373.3L156.9 363.8Z" fill="#969696"/><path d="M164.8 363.5L172.8 363.5L172.0 364.4L173.4 365.2L174.4 366.8L176.4 368.4L177.9 369.8L178.2 371.1L179.1 372.6L179.9 372.9L179.0 374.4L178.2 376.1L178.0 377.0L176.3 376.9L176.1 378.1L175.6 377.5L167.2 377.0L166.7 376.1L166.6 374.4L166.7 372.0L166.2 370.2L164.8 363.5Z" fill="#f7f7f7"/><path d="M158.5 376.1L166.7 376.1L167.2 377.0L175.6 377.5L176.1 378.1L176.3 376.9L178.0 377.0L178.2 378.3L178.7 379.9L179.8 382.2L180.9 384.1L180.7 385.2L181.7 387.8L182.5 389.3L182.3 392.5L181.4 394.4L179.8 394.5L179.1 394.6L178.3 392.5L176.9 391.5L176.3 390.3L175.3 389.0L174.2 387.3L173.6 385.9L174.2 384.3L173.7 382.4L171.8 380.8L169.9 378.9L168.8 379.4L166.7 380.5L165.5 380.2L164.8 378.9L162.6 378.1L159.7 378.2L158.7 378.4L159.1 377.2Z" fill="#969696"/><path d="M172.8 363.5L175.0 362.9L179.3 363.0L179.3 363.3L179.7 363.2L180.2 364.1L183.7 364.1L187.3 367.1L185.8 368.1L185.2 369.2L183.9 370.1L182.6 371.1L181.2 371.8L179.9 372.9L179.1 372.6L178.2 371.1L177.9 369.8L176.4 368.4L174.4 366.8L173.4 365.2L172.0 364.4L172.8 363.5Z" fill="#f7f7f7"/><path d="M195.8 358.6L177.3 358.5L177.2 359.2L176.3 360.0L174.4 360.3L173.4 360.5L171.5 361.7L169.9 362.2L168.9 363.5L172.8 363.5L175.0 362.9L179.3 363.0L179.3 363.3L179.7 363.2L180.2 364.1L183.7 364.1L187.3 367.1L189.2 367.1L191.5 364.8L193.8 364.6L195.4 363.3L197.0 362.7L197.0 361.0Z" fill="#cccccc"/><path d="M152.4 358.8L157.0 358.8L157.0 358.2L170.9 358.5L177.3 358.5L177.2 359.2L176.3 360.0L174.4 360.3L173.4 360.5L171.5 361.7L169.9 362.2L168.9 363.5L156.6 363.5L149.9 363.5L150.6 363.1L151.8 360.3L152.4 359.6Z" fill="#525252"/><path d="M153.6 357.3L155.6 357.0L157.0 354.7L158.5 354.2L160.1 354.7L161.0 354.2L162.0 354.2L163.4 354.0L164.2 353.2L165.5 351.8L167.3 350.6L168.3 350.6L169.3 351.5L171.2 352.0L173.1 351.8L174.4 352.7L174.4 353.6L175.3 355.0L176.4 355.5L174.1 357.0L170.9 358.5L157.0 358.2L157.0 358.8L152.4 358.8L153.4 358.5Z" fill="#969696"/><path d="M195.8 358.6L177.3 358.5L170.9 358.5L174.1 357.0L176.4 355.5L178.7 356.4L181.7 355.6L181.7 355.0L183.8 352.2L185.2 352.6L186.2 351.6L187.9 349.8L189.5 350.5L189.9 349.9L190.6 350.6L191.8 351.1L192.1 351.5L191.2 352.8L192.2 353.1L194.4 354.4L194.4 355.6L194.2 357.2L195.4 357.4ZM197.8 354.0L196.6 354.1L195.7 355.3L195.4 356.6L195.5 356.8L196.6 355.6Z" fill="#f7f7f7"/><path d="M181.0 345.7L180.6 345.9L180.7 347.1L179.9 348.7L178.2 349.8L177.1 351.1L175.6 352.2L174.4 352.7L174.4 353.6L175.3 355.0L176.4 355.5L178.7 356.4L181.7 355.6L181.7 355.0L183.8 352.2L185.2 352.6L186.2 351.6L187.9 349.8L189.5 350.5L189.9 349.9L189.3 349.0L188.4 348.8L187.7 349.0L186.6 349.0L185.8 349.5L184.3 350.3L184.3 348.6L181.0 348.6Z" fill="#525252"/><path d="M167.3 342.4L171.7 342.3L173.1 343.0L174.1 343.0L176.3 343.0L177.2 343.0L179.5 341.9L181.0 341.5L181.0 345.7L180.6 345.9L180.7 347.1L179.9 348.7L178.2 349.8L177.1 351.1L175.6 352.2L174.4 352.7L173.1 351.8L171.2 352.0L169.3 351.5L168.3 350.6L167.3 350.6Z" fill="#969696"/><path d="M167.3 342.2L161.0 342.2L159.7 342.6L158.7 342.4L158.7 349.8L158.5 351.1L158.8 352.5L157.4 353.4L157.0 354.7L158.5 354.2L160.1 354.7L161.0 354.2L162.0 354.2L163.4 354.0L164.2 353.2L165.5 351.8L167.3 350.6Z" fill="#969696"/><path d="M148.8 339.9L157.8 339.9L158.5 341.9L158.7 342.4L158.7 349.8L158.5 351.1L158.8 352.5L157.4 353.4L157.0 354.7L155.6 357.0L153.6 357.3L152.4 356.3L151.2 354.4L149.7 353.4L150.2 352.2L150.2 351.5L149.4 351.2L148.6 350.9L147.5 349.5L146.3 348.1L146.4 346.5L147.3 345.1L147.5 343.3L149.7 342.9L150.2 342.1L150.4 341.1L148.8 339.9Z" fill="#969696"/><path d="M143.6 326.8L144.2 326.5L147.7 326.0L148.3 325.9L149.6 327.1L150.5 327.7L153.7 328.4L154.7 328.8L156.9 329.2L157.7 330.7L158.5 331.7L157.2 333.4L158.8 332.5L160.2 331.2L159.3 332.6L158.6 334.2L158.2 335.8L157.5 338.3L157.8 339.9L148.8 339.9L147.2 339.1L147.3 338.0L147.0 336.7L146.7 335.6L144.5 333.9L141.9 332.8L142.1 332.0L141.9 329.8L143.6 328.6Z" fill="#cccccc"/><path d="M167.3 342.4L171.7 342.3L172.6 341.3L172.8 340.5L174.7 339.6L174.9 338.3L174.4 335.5L173.1 335.0L171.8 335.5L170.2 336.3L171.5 334.8L172.1 332.6L171.7 331.1L169.3 330.0L167.5 329.5L166.4 330.1L166.7 330.7L165.2 332.0L164.7 331.4L163.2 332.3L162.8 333.3L162.0 335.1L162.1 336.1L162.9 338.3L162.6 340.2L161.7 341.4L161.0 342.2L167.3 342.2ZM149.6 327.1L152.4 326.2L154.3 325.4L155.6 324.8L157.8 324.2L156.6 325.7L155.8 326.3L158.5 326.2L159.1 327.3L161.7 327.4L163.6 326.7L166.7 326.4L167.4 327.4L168.8 327.3L169.6 328.1L170.2 328.8L167.7 329.3L165.2 328.6L162.6 329.2L161.3 329.6L160.4 329.8L160.1 330.6L158.5 331.7L157.7 330.7L156.9 329.2L154.7 328.8L153.7 328.4L150.5 327.7Z" fill="#cccccc"/><path d="M181.0 341.5L183.4 340.6L183.4 341.4L197.4 341.4L198.4 342.7L199.5 343.5L198.2 344.6L197.9 345.7L199.4 347.3L198.2 348.1L197.2 348.4L196.0 348.6L181.0 348.6L181.0 345.7Z" fill="#cccccc"/><path d="M183.4 341.4L183.4 340.6L185.8 339.2L186.1 338.6L185.7 337.5L189.0 337.1L192.8 337.4L194.7 336.6L194.4 335.1L194.4 334.5L196.0 333.7L199.3 332.0L203.8 332.0L203.6 335.1L203.5 336.4L204.1 336.6L204.0 339.1L203.3 341.3L203.4 343.7L202.6 344.3L202.8 344.6L202.0 345.2L201.7 345.5L202.0 344.6L199.5 343.5L198.4 342.7L197.4 341.4ZM201.6 345.9L202.5 345.9L205.5 345.4L208.5 344.4L207.1 344.1L206.0 344.7L203.3 344.8L202.4 345.2Z" fill="#969696"/><path d="M199.5 343.5L202.0 344.6L201.7 345.5L200.9 346.2L201.7 346.3L201.5 348.5L200.4 349.6L198.7 351.1L198.1 350.3L196.8 349.3L196.9 348.9L197.2 348.4L198.2 348.1L199.4 347.3L197.9 345.7L198.2 344.6Z" fill="#cccccc"/><path d="M196.0 348.6L197.2 348.4L196.8 349.3L197.3 350.6L198.2 351.5L198.4 352.6L196.3 352.6Z" fill="#f7f7f7"/><path d="M184.3 348.6L196.0 348.6L196.3 352.6L198.4 352.6L197.8 354.0L196.6 354.1L195.8 353.4L194.7 351.8L195.2 350.0L194.4 349.8L193.8 351.2L194.1 353.1L194.4 354.4L192.2 353.1L191.2 352.8L192.1 351.5L191.8 351.1L190.6 350.6L189.9 349.9L189.3 349.0L188.4 348.8L187.7 349.0L186.6 349.0L185.8 349.5L184.3 350.3Z" fill="#f7f7f7"/><path d="M203.3 341.3L208.7 341.4L208.7 343.3L208.5 343.6L205.2 343.8L202.8 344.6L202.6 344.3L203.4 343.7Z" fill="#969696"/><path d="M208.7 341.4L210.1 341.4L210.1 341.8L210.6 342.4L210.9 343.0L210.0 343.2L208.5 343.6L208.7 343.3Z" fill="#969696"/><path d="M204.0 339.1L206.6 339.2L210.3 339.2L211.3 338.7L211.8 338.7L212.5 339.4L211.6 340.0L211.3 340.5L212.2 341.0L212.5 341.6L212.9 342.1L214.4 342.1L214.4 341.3L213.8 341.2L214.6 341.8L214.6 342.5L212.4 343.0L211.3 343.0L210.9 343.0L210.6 342.4L210.1 341.8L210.1 341.4L208.7 341.4L203.3 341.3Z" fill="#f7f7f7"/><path d="M203.8 332.0L209.7 332.0L209.4 333.6L207.9 334.8L207.4 336.1L206.7 338.3L206.6 339.2L204.0 339.1L204.1 336.6L203.5 336.4L203.6 335.1Z" fill="#cccccc"/><path d="M209.7 332.0L210.0 331.2L211.0 331.1L211.4 336.5L211.3 337.1L212.2 338.1L211.8 338.7L211.3 338.7L210.3 339.2L206.6 339.2L206.7 338.3L207.4 336.1L207.9 334.8L209.4 333.6Z" fill="#f7f7f7"/><path d="M212.2 338.1L211.3 337.1L211.4 336.5L211.0 331.1L211.9 330.7L213.2 329.6L213.6 329.0L213.5 327.9L214.3 327.6L216.9 324.3L217.9 325.1L219.8 324.6L221.4 325.5L221.5 329.0L222.6 330.1L222.7 331.5L224.1 332.6L222.1 333.6L220.2 334.2L218.3 333.9L217.6 334.8L215.1 335.8L213.6 336.4L212.7 337.4Z" fill="#969696"/><path d="M191.8 351.1L192.1 350.9L192.5 351.2L192.1 351.5Z" fill="#cccccc"/><path d="M47.2 320.3L48.1 321.0L48.3 322.9L47.7 324.4L46.4 325.1L46.5 323.8L47.0 322.2Z" fill="#111"/><path d="M40.4 321.4L43.0 322.0L46.7 322.2L47.0 323.4L47.1 323.4L47.2 323.3L47.7 323.5L47.7 324.0L47.8 324.1L48.1 322.8L47.7 321.3L47.5 320.2L46.7 319.4M134.5 319.3L134.5 318.2L135.6 318.5L136.1 320.2L138.8 320.7L140.7 320.6L143.2 321.6L146.4 322.4L148.3 321.9L152.4 322.6L148.3 324.8L144.8 326.2L144.8 326.4L148.3 325.9L149.6 327.1L152.4 326.2L155.6 324.8L157.8 324.2L156.6 325.7L156.0 326.2L156.0 326.3L158.5 326.2L159.2 327.3L161.7 327.4L163.6 326.7L166.7 326.4L167.4 327.4L168.8 327.3L170.2 328.8L167.7 329.3L165.1 328.6L162.6 329.2L161.3 329.6L160.4 329.8L160.1 330.6L158.5 331.7L157.5 333.0L157.5 333.2L157.6 333.2L158.8 332.5L160.2 331.2L159.3 332.6L158.6 334.2L157.5 338.3L157.8 339.9L158.5 341.9L158.7 342.4L159.7 342.6L161.0 342.2L162.6 340.2L162.9 338.3L162.1 336.1L162.0 335.2L163.2 332.3L164.7 331.4L165.1 331.9L165.2 331.9L166.7 330.8L166.4 330.1L167.5 329.5L169.3 330.0L171.7 331.1L172.1 332.6L171.5 334.8L170.6 335.9L170.6 336.0L173.1 335.0L174.4 335.5L174.9 338.3L174.7 339.6L172.8 340.5L172.6 341.3L171.7 342.3L173.1 343.0L177.2 343.0L179.5 341.9L181.0 341.5L183.4 340.6L185.8 339.2L186.1 338.6L185.7 337.5L189.0 337.1L192.8 337.4L194.7 336.6L194.7 336.5L194.4 335.1L194.4 334.5M209.6 332.0L210.0 331.2L211.0 331.1L211.9 330.7L213.2 329.6L213.6 329.0L213.5 327.9L214.3 327.6L216.9 324.3L217.9 325.1L219.8 324.6L221.4 325.5L221.5 329.0L222.6 330.1L222.7 331.5L224.1 332.6L222.1 333.6L220.2 334.2L218.3 333.9L217.6 334.8L213.7 336.4L212.7 337.3L211.9 338.7L212.5 339.4L211.6 340.0L211.3 340.5L212.2 341.0L212.9 342.1L214.4 342.1L214.4 341.7L214.6 341.8L214.6 342.5L212.4 343.0L210.9 343.0L210.0 343.2L208.5 343.6L205.2 343.8L202.8 344.6L201.1 346.1L201.1 346.2L201.7 346.3L201.5 348.5L200.4 349.6L198.7 351.1L198.1 350.3L197.0 349.5L196.9 349.5L197.3 350.6L198.2 351.5L198.4 352.6L197.8 354.0L196.6 355.6L195.5 356.8L195.4 356.6L195.7 355.3L196.5 354.1L195.8 353.4L194.7 351.8L195.2 350.0L194.4 349.9L193.8 351.2L194.4 354.4L194.4 355.6L194.3 357.1L195.4 357.4L195.8 358.6L197.0 361.0L197.0 362.7L195.4 363.3L193.8 364.6L191.5 364.8L189.2 367.1L187.3 367.1L185.8 368.1L185.2 369.2L182.6 371.1L181.2 371.8L179.9 372.9L179.0 374.4L178.2 376.1L178.0 377.0L178.2 378.3L178.7 379.9L179.8 382.2L180.9 384.1L180.7 385.2L181.7 387.8L182.5 389.3L182.3 392.5L181.4 394.4L179.1 394.6L178.4 392.5L176.9 391.5L176.3 390.3L175.3 389.0L174.2 387.3L173.6 385.9L174.2 384.3L173.7 382.4L171.8 380.8L170.0 379.0L168.8 379.4L166.7 380.5L165.5 380.2L164.8 378.9L162.6 378.1L159.8 378.2L157.8 378.5L157.5 377.4L157.4 377.4L157.0 377.4L156.9 378.3L155.9 378.1L154.3 378.0L152.3 378.7L151.7 379.0L151.7 379.2L152.7 379.4L152.5 380.5L154.0 381.8L152.9 382.6L151.2 381.5L150.2 382.1L148.0 382.2L146.7 381.5L145.1 380.8L143.5 380.7L140.7 379.9L138.6 380.2L135.9 381.1L134.6 382.2M129.2 385.2L128.0 386.8L127.3 388.7L128.1 392.0L127.0 392.3M121.9 390.6L120.8 387.9L120.6 387.1L118.1 384.6L117.0 382.1L114.6 380.0L111.7 379.6L110.5 380.2L109.0 382.5L108.5 382.4L106.3 381.5L104.7 380.4L103.5 377.4M98.4 373.7L98.0 373.6L93.0 373.6L93.0 373.7L93.0 375.1M71.9 371.4L72.2 370.8L72.1 370.7M64.6 371.3L64.0 369.8L62.1 367.9L60.5 367.4L60.2 366.6L58.0 366.3L53.9 365.2L53.4 363.0L51.3 361.5L49.4 358.5L47.8 356.6L47.5 354.7L45.9 354.0L43.4 350.0L41.4 346.4L42.4 344.6L42.1 341.5L41.0 338.8L41.8 337.0L42.3 335.1L42.9 330.4L42.4 326.0L41.3 324.1L40.4 321.4M201.6 345.9L202.4 345.2L203.3 344.8L206.0 344.7L207.1 344.1L208.5 344.4L205.5 345.4L201.6 345.9M46.7 321.3L47.3 321.4L47.8 322.7L47.3 322.7L46.7 321.3M45.4 320.5L46.4 320.3L46.5 321.1L45.6 321.1L45.4 320.5" fill="none" stroke="#111" stroke-width="0.55"/></g><text transform="translate(131.65 313.70) scale(0.1)" font-size="77.4" text-anchor="middle" fill="#111" stroke="#111" stroke-width="0.9">2015 Sales Taxes as a Percentage of Income</text><rect x="43.4" y="373.1" width="5.9" height="4.6" fill="#525252" stroke="#222222" stroke-width="0.4"/><text transform="translate(51.30 376.81) scale(0.1) rotate(0.3)" font-size="39.0" fill="#222">(3.993,5.656]</text><rect x="43.4" y="377.7" width="5.9" height="4.6" fill="#969696" stroke="#222222" stroke-width="0.4"/><text transform="translate(51.30 381.43) scale(0.1) rotate(0.3)" font-size="39.0" fill="#222">(3.425,3.993]</text><rect x="43.4" y="382.3" width="5.9" height="4.6" fill="#cccccc" stroke="#222222" stroke-width="0.4"/><text transform="translate(51.30 386.05) scale(0.1) rotate(0.3)" font-size="39.0" fill="#222">(2.998,3.425]</text><rect x="43.4" y="387.0" width="5.9" height="4.6" fill="#f7f7f7" stroke="#222222" stroke-width="0.4"/><text transform="translate(51.30 390.67) scale(0.1) rotate(0.3)" font-size="39.0" fill="#222">[1.094,2.998]</text></svg></body></html>
